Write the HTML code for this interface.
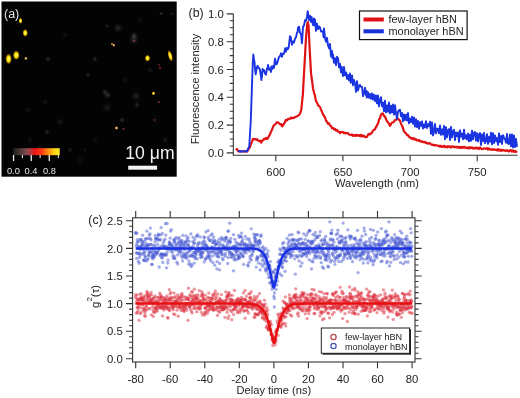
<!DOCTYPE html>
<html><head><meta charset="utf-8"><title>hBN figure</title>
<style>html,body{margin:0;padding:0;background:#fff;} svg{display:block;}</style>
</head><body>
<svg width="520" height="398" viewBox="0 0 520 398">
<defs>
<radialGradient id="gYel"><stop offset="0" stop-color="#fffb90"/><stop offset="0.45" stop-color="#ffe800"/><stop offset="0.75" stop-color="#d09000" stop-opacity="0.6"/><stop offset="1" stop-color="#000" stop-opacity="0"/></radialGradient>
<radialGradient id="gPale"><stop offset="0" stop-color="#fff0c0"/><stop offset="0.5" stop-color="#e0a040" stop-opacity="0.8"/><stop offset="1" stop-color="#000" stop-opacity="0"/></radialGradient>
<radialGradient id="gRed"><stop offset="0" stop-color="#d07060"/><stop offset="0.5" stop-color="#802020" stop-opacity="0.7"/><stop offset="1" stop-color="#000" stop-opacity="0"/></radialGradient>
<radialGradient id="gGray"><stop offset="0" stop-color="#909090" stop-opacity="0.5"/><stop offset="1" stop-color="#000" stop-opacity="0"/></radialGradient>
<linearGradient id="gCbar" x1="0" x2="1" y1="0" y2="0"><stop offset="0" stop-color="#1c1c1c"/><stop offset="0.15" stop-color="#4a3838"/><stop offset="0.3" stop-color="#8a4a4e"/><stop offset="0.4" stop-color="#c03038"/><stop offset="0.46" stop-color="#ec1616"/><stop offset="0.6" stop-color="#ff3412"/><stop offset="0.75" stop-color="#ff8c10"/><stop offset="0.88" stop-color="#ffd014"/><stop offset="1" stop-color="#fff024"/></linearGradient>
</defs>
<rect width="520" height="398" fill="#fff"/>
<rect x="1.5" y="1.5" width="175.2" height="175.2" fill="#030303"/>
<circle cx="118" cy="28" r="6.5" fill="url(#gGray)" opacity="0.60"/>
<circle cx="107" cy="95" r="5.2" fill="url(#gGray)" opacity="0.48"/>
<circle cx="136" cy="96" r="6.5" fill="url(#gGray)" opacity="0.54"/>
<circle cx="107.3" cy="107.7" r="6.5" fill="url(#gGray)" opacity="0.42"/>
<circle cx="48" cy="59" r="3.9" fill="url(#gGray)" opacity="0.72"/>
<circle cx="107" cy="26" r="2.6" fill="url(#gGray)" opacity="0.72"/>
<circle cx="161" cy="13.6" r="2.6" fill="url(#gGray)" opacity="0.90"/>
<circle cx="172" cy="13.6" r="2.6" fill="url(#gGray)" opacity="0.60"/>
<circle cx="40" cy="148" r="3.9" fill="url(#gGray)" opacity="0.36"/>
<circle cx="134" cy="40" r="6.5" fill="url(#gGray)" opacity="0.72"/>
<circle cx="108" cy="95" r="3.9" fill="url(#gGray)" opacity="0.48"/>
<circle cx="60" cy="122" r="5.2" fill="url(#gGray)" opacity="0.36"/>
<circle cx="45" cy="102" r="3.9" fill="url(#gGray)" opacity="0.30"/>
<circle cx="150" cy="70" r="3.9" fill="url(#gGray)" opacity="0.36"/>
<circle cx="95" cy="140" r="3.9" fill="url(#gGray)" opacity="0.30"/>
<circle cx="170" cy="150" r="5.2" fill="url(#gGray)" opacity="0.30"/>
<circle cx="30" cy="140" r="3.9" fill="url(#gGray)" opacity="0.30"/>
<circle cx="80" cy="160" r="3.9" fill="url(#gGray)" opacity="0.30"/>
<circle cx="155" cy="120" r="3.9" fill="url(#gGray)" opacity="0.36"/>
<circle cx="125" cy="80" r="3.9" fill="url(#gGray)" opacity="0.36"/>
<circle cx="65" cy="35" r="3.9" fill="url(#gGray)" opacity="0.30"/>
<circle cx="140" cy="20" r="3.9" fill="url(#gGray)" opacity="0.30"/>
<circle cx="134" cy="36" r="5.2" fill="url(#gGray)" opacity="0.96"/>
<circle cx="105" cy="92" r="3.9" fill="url(#gGray)" opacity="0.84"/>
<circle cx="122" cy="120" r="3.9" fill="url(#gGray)" opacity="0.72"/>
<circle cx="137" cy="105" r="3.9" fill="url(#gGray)" opacity="0.72"/>
<circle cx="95" cy="59" r="3.9" fill="url(#gGray)" opacity="0.60"/>
<circle cx="47" cy="132" r="3.9" fill="url(#gGray)" opacity="0.60"/>
<circle cx="88" cy="75" r="3.9" fill="url(#gGray)" opacity="0.48"/>
<circle cx="70" cy="150" r="3.9" fill="url(#gGray)" opacity="0.48"/>
<circle cx="165" cy="140" r="3.9" fill="url(#gGray)" opacity="0.48"/>
<circle cx="28" cy="110" r="3.9" fill="url(#gGray)" opacity="0.36"/>
<ellipse cx="8.6" cy="58.9" rx="3.5" ry="5.8" fill="url(#gYel)"/>
<ellipse cx="16.3" cy="55.2" rx="3.7" ry="5.1" fill="url(#gYel)"/>
<ellipse cx="25.9" cy="58.4" rx="2.1" ry="2.1" fill="url(#gPale)"/>
<ellipse cx="20.5" cy="20.8" rx="2.1" ry="3.2" fill="url(#gYel)"/>
<ellipse cx="25.2" cy="32.9" rx="2.9" ry="4.2" fill="url(#gYel)"/>
<ellipse cx="147.5" cy="58.2" rx="2.9" ry="3.7" fill="url(#gYel)"/>
<ellipse cx="113.8" cy="45.2" rx="1.9" ry="1.9" fill="url(#gPale)"/>
<ellipse cx="134" cy="40.7" rx="1.6" ry="1.6" fill="url(#gRed)"/>
<ellipse cx="153.5" cy="93.4" rx="1.9" ry="1.9" fill="url(#gYel)"/>
<ellipse cx="158.8" cy="102" rx="1.6" ry="1.6" fill="url(#gRed)"/>
<ellipse cx="112" cy="44" rx="1.3" ry="1.3" fill="url(#gPale)"/>
<ellipse cx="159" cy="65" rx="1.3" ry="1.3" fill="url(#gRed)"/>
<ellipse cx="154" cy="120" rx="1.3" ry="1.3" fill="url(#gRed)"/>
<ellipse cx="85" cy="150" rx="1.1" ry="1.1" fill="url(#gRed)"/>
<ellipse cx="116.5" cy="128" rx="2.2" ry="2.2" fill="url(#gPale)"/>
<ellipse cx="123.5" cy="129" rx="1.6" ry="1.6" fill="url(#gRed)"/>
<ellipse cx="160" cy="68" rx="1.6" ry="1.6" fill="url(#gRed)"/>
<ellipse cx="170.6" cy="56.5" rx="4" ry="7.5" transform="rotate(-16 170.6 56.5)" fill="url(#gRed)" opacity="0.35"/>
<ellipse cx="170.2" cy="55.8" rx="2.3" ry="6.4" transform="rotate(-16 170.2 55.8)" fill="url(#gYel)"/>
<text x="4" y="17.6" font-size="12.5" fill="#e6e6e6" style="font-family:'Liberation Sans',Arial,sans-serif">(a)</text>
<rect x="13" y="148.2" width="46.7" height="7" fill="url(#gCbar)"/>
<rect x="12.9" y="155" width="1.3" height="6" fill="#f0f0f0"/>
<rect x="21.9" y="155" width="1.1" height="3" fill="#e0e0e0"/>
<rect x="30.6" y="155" width="1.3" height="6" fill="#f0f0f0"/>
<rect x="39.6" y="155" width="1.1" height="3" fill="#e0e0e0"/>
<rect x="48.6" y="155" width="1.3" height="6" fill="#f0f0f0"/>
<rect x="57.8" y="155" width="1.1" height="3" fill="#e0e0e0"/>
<text x="13.4" y="173.6" font-size="9.3" fill="#e4e4e4" text-anchor="middle" style="font-family:'Liberation Sans',Arial,sans-serif">0.0</text>
<text x="31" y="173.6" font-size="9.3" fill="#e4e4e4" text-anchor="middle" style="font-family:'Liberation Sans',Arial,sans-serif">0.4</text>
<text x="49.4" y="173.6" font-size="9.3" fill="#e4e4e4" text-anchor="middle" style="font-family:'Liberation Sans',Arial,sans-serif">0.8</text>
<text x="125.3" y="158.9" font-size="17.6" fill="#f2f2f2" style="font-family:'Liberation Sans',Arial,sans-serif">10 μm</text>
<rect x="128.2" y="165.7" width="28.9" height="4" fill="#f4f4f4"/>
<path d="M236,150.3 L237,149 L238.2,151.3 L239,151.3 L240,151.2 L241,151.3 L242,151.3 L243,151.4 L244,151.1 L245,151.4 L246,151.7 L247.3,151.2 L248,150.4 L249,148.3 L249.8,147.7 L251,143.8 L252,141.7 L253,138.9 L254,139.5 L255,139.1 L256.3,139.7 L257,139.1 L258,140.7 L259,140.8 L260,140.7 L261.2,142.7 L262,140.8 L263,140.2 L264,138.8 L264.5,139.3 L265,138.9 L266,137.8 L267,139.1 L267.7,138.4 L269,135.9 L270,134.4 L271,131.7 L272,129.8 L273,127 L273.4,126.1 L274,125.3 L275,124.5 L276,123.5 L277,122.1 L277.5,122.5 L278,122.6 L279,123 L280,124.3 L281,124 L282,126.4 L282.4,126 L283,125.4 L284,123.6 L285,122.1 L285.7,120 L287,120.5 L288,118.9 L289,119.1 L290,118.7 L291,117.5 L292,118.3 L293,117.8 L293.8,118.1 L295,117.1 L296,116.7 L297,116.2 L298,115.6 L299,115 L299.5,114.4 L300,113.5 L301.2,110.3 L302,102.6 L302.8,95.1 L304,73.8 L304.5,65 L305,55.8 L306,38.1 L307.2,24 L307.8,22.1 L308.6,26 L309,34.8 L309.6,47.9 L310,55.2 L311,72.8 L312,80.5 L313,88.2 L314,92.6 L315,95.6 L315.8,100.5 L317,102.7 L318,105.1 L319,106.1 L320,106.8 L321,109.6 L322,111.8 L323,114.3 L324,115.8 L325,117.3 L326,120.7 L326.7,121.3 L328,123.8 L329,123.3 L330,125.4 L331,125.9 L332,128.2 L333,128 L333.5,128.3 L334,129.5 L335,128.9 L336,130.5 L337,129.9 L338,131.7 L339,131.6 L340,133.2 L341,131.9 L342,132.1 L343,132 L344,133.2 L345,132.7 L346,133.5 L347,133.1 L348,133.2 L349,134.5 L350,134.8 L351,135.2 L352,134.4 L353,135.8 L353.6,135.4 L354,135.8 L355,134.8 L356,135.9 L357,134.9 L358,135.7 L359,135.2 L360,136.2 L360.4,134.9 L361,136.4 L362,135.2 L363,136.5 L364,135.7 L365,136.9 L365.8,137.2 L367,136.7 L368,134.7 L369,133.9 L370,134.4 L371,133.4 L372,132.6 L373,130.5 L374,129.7 L375,129.4 L376,126.8 L376.5,126.7 L377,125.2 L378,123.7 L379,119.7 L380,118.1 L381,114.9 L382,113.5 L383,113.7 L384,115.9 L385,116.7 L386,119 L387,121.2 L388,122.4 L389,123.7 L390,125.9 L391,124 L392,122.5 L393,122.4 L394,121.6 L395,120 L396,120 L397,118.3 L398,118.5 L399,120 L400,120.7 L401,123.7 L402,125.5 L403,128.1 L404,131.3 L404.5,131.8 L405,132.7 L406,133.2 L407,135.1 L408,135 L409,136.9 L410,137.2 L411,138.5 L412,138 L413,139.3 L414,138.2 L415,139.7 L416,139.2 L417,140.5 L418,140.7 L419,140 L420,141.4 L421,141.1 L422,141.8 L423,141.6 L424,142.4 L425,141.8 L426,143.1 L427,142.8 L428,143.6 L429,143.4 L430,143.2 L431,144.5 L432,144.8 L433,144.6 L434,145.4 L435,144.9 L436,145.5 L437,145.4 L438,146 L439,145.7 L440,146.8 L441,145.7 L442,147 L443,146.8 L444,145.7 L445,147.2 L446,146.5 L447,147.4 L448,146.1 L449,147 L450,146.3 L451,147.5 L452,146.4 L453,146.4 L454,147.3 L455,146.8 L456,147.3 L457,146.7 L458,147.7 L459,146.8 L460,148 L461,146.9 L462,148 L463,146.8 L464,147.7 L465,146.9 L466,148.2 L467,148.1 L468,147.3 L469,148.4 L470,147.2 L471,148.1 L472,147.3 L473,148.5 L474,147.8 L475,148.6 L476,147.5 L477,148.6 L478,147.8 L479,149 L480,147.5 L481,148.3 L482,149.1 L483,149 L484,148.4 L485,148.5 L486,149 L487,148.1 L488,149.6 L489,148.3 L490,149.4 L491,149.7 L492,149.2 L493,149.8 L494,149.3 L495,149.9 L496,149.5 L497,150.4 L498,149.1 L499,150.6 L500,149.6 L501,150.9 L502,149.8 L503,150.5 L504,150.1 L505,150.7 L506,150.8 L507,150.1 L508,151 L509,151.5 L510,150.3 L511,150.1 L512,151.6 L513,150.4 L514,151.8 L515,150.9 L516,152.1 L517,151" fill="none" stroke="#e01214" stroke-width="2.2" stroke-linejoin="round"/>
<path d="M238,151 L239,151.5 L240,150.9 L241,151.7 L242,151.2 L243,151.6 L244,151.6 L245,151.3 L246,150.8 L247,151.4 L248,148.9 L249.3,146.1 L250,133.8 L250.8,120.2 L252,84.8 L252.8,62.2 L253.3,54.5 L254,59.7 L254.5,61.7 L255,68.7 L255.7,74.3 L256.6,68 L257,66.9 L257.6,65.8 L258,67.7 L259,67.7 L260,70 L261,76.4 L261.4,80 L262,75.8 L262.6,69 L263,71 L264,70.1 L265,73.4 L266,74.7 L267,68.5 L267.6,67.8 L268,64.9 L269,69.7 L270,68.4 L271,72 L271.4,66.5 L272,69.2 L273,66 L274,68 L275,58.6 L276,64.4 L277,63.7 L277.7,61.1 L279,57 L280.2,55.8 L281,53.3 L282,56.8 L282.7,53.6 L284,53.8 L285.2,48.3 L286,51.5 L287,48 L288,49 L288.8,46.6 L290,36.1 L290.7,37.1 L292,44.9 L293,41.4 L294,42.5 L295,38.8 L296,37.3 L297,32.6 L297.6,32.2 L298,27.6 L299,26.7 L300,32.9 L301,33.9 L302,43.2 L303,26.6 L304,25.5 L305,20.2 L306,20.8 L307,16.7 L307.7,11.1 L309,20.2 L310,15.7 L311,22 L311.5,17 L312,19.3 L313,25.2 L314,18.4 L314.5,25.4 L315,19.7 L316,30.9 L317,23.6 L318,29.1 L319,26.5 L320,27.4 L321,31.5 L322,31 L323,32.2 L323.6,37.1 L324,28.4 L325,37.9 L326,41.7 L327,37.8 L328,45.4 L329.2,48.4 L330,44 L331,56.5 L332,51 L332.6,58.1 L333,54.5 L334,62.7 L335,58.1 L336,65.2 L337,56.7 L338,58.2 L339,67.4 L340,63.8 L341,72.3 L341.7,66.8 L343,76.1 L344,67 L345,75.3 L346.2,72.4 L347,78.9 L348,75 L349,80.4 L350,73.5 L350.7,82.7 L352,75.4 L353,85.3 L354,79.9 L355.2,84.5 L356,91.9 L357,81.2 L358,90.4 L359,86.5 L359.8,84.9 L361,86.7 L362,86.9 L363,96.1 L364,93 L365,87.7 L366,95.6 L366.6,90.9 L367,97.6 L368,92.2 L369,97.9 L370,94 L371,98.8 L372,93.5 L373,99.6 L374,94.8 L375,101 L376,95.5 L377,103.4 L378,95.5 L379,106.3 L380,99.8 L381,97.2 L382,106.2 L383,102.7 L384,111.3 L385,100.6 L386,112.4 L387,105.4 L388,111.8 L389,102.5 L390,113.3 L391,105.8 L392,112.5 L393,104.5 L394,114.6 L395,105.3 L396,113.6 L397,118.8 L398,111.7 L399,110.4 L400,109.7 L401,116.4 L402,113 L403,121.4 L404,114.4 L405,120.1 L406,114.6 L407,120.5 L408,113 L409,123.4 L410,118.8 L411,122 L412,116.8 L413,123.8 L414,117.5 L415,126.5 L416,119.1 L417,127.1 L418,121 L419,128.8 L420,122.1 L421,125.9 L422,121.5 L423,128.6 L424,124.4 L425,127.4 L426,121.2 L427,128.1 L428,124.2 L429,125.9 L430,121.6 L431,133.8 L432,122.5 L433,135.4 L434,131.5 L435,124 L436,133.3 L437,129 L438,128.7 L439,133.3 L440,125.5 L441,134.8 L442,129.4 L443,134.6 L444,126 L445,139.2 L446,127.3 L447,137.4 L448,130.1 L449,129.1 L450,140 L451,126.9 L452,137.4 L453,131.5 L454,129.8 L455,140.1 L456,132.5 L457,136.1 L458,132.4 L459,142 L460,130.3 L461,136.5 L462,133.7 L463,139.4 L464,129.6 L465,138.5 L466,135.1 L467,139.6 L468,133.4 L469,141.3 L470,134.6 L471,140.9 L472,130.6 L473,139.3 L474,132.7 L475,132 L476,140.5 L477,133.1 L478,141.3 L479,134.6 L480,133.1 L481,145 L482,134.4 L483,141.1 L484,133 L485,143.1 L486,140.7 L487,134.2 L488,143.8 L489,136.9 L490,141.8 L491,132.7 L492,144.4 L493,133.1 L494,143 L495,135.5 L496,141 L497,138.1 L498,144.9 L499,133.4 L500,142.1 L501,136 L502,144 L503,135.1 L504,137.7 L505,139.1 L506,142.8 L507,133.9 L508,143.7 L509,143.8 L510,134.5 L511,146.3 L512,134.4 L513,147.5 L514,135.4 L515,147.1 L516,139 L517,146.8" fill="none" stroke="#1a34e2" stroke-width="1.9" stroke-linejoin="round"/>
<path d="M233.3,13.8 V155.2 H517.6" fill="none" stroke="#333" stroke-width="1.1"/>
<path d="M226.7,152.9 H233.3 M229.8,146.0 H233.3 M229.8,139.0 H233.3 M229.8,132.1 H233.3 M226.7,125.1 H233.3 M229.8,118.2 H233.3 M229.8,111.2 H233.3 M229.8,104.2 H233.3 M226.7,97.3 H233.3 M229.8,90.3 H233.3 M229.8,83.4 H233.3 M229.8,76.5 H233.3 M226.7,69.5 H233.3 M229.8,62.5 H233.3 M229.8,55.6 H233.3 M229.8,48.7 H233.3 M226.7,41.7 H233.3 M229.8,34.8 H233.3 M229.8,27.8 H233.3 M229.8,20.8 H233.3 M226.7,13.9 H233.3 M275.8,155.2 V161.2 M342.9,155.2 V161.2 M410.1,155.2 V161.2 M477.2,155.2 V161.2" stroke="#333" stroke-width="1.1" fill="none"/>
<text x="223.8" y="157.0" font-size="11.3" fill="#222" text-anchor="end" style="font-family:'Liberation Sans',Arial,sans-serif">0.0</text>
<text x="223.8" y="129.2" font-size="11.3" fill="#222" text-anchor="end" style="font-family:'Liberation Sans',Arial,sans-serif">0.2</text>
<text x="223.8" y="101.4" font-size="11.3" fill="#222" text-anchor="end" style="font-family:'Liberation Sans',Arial,sans-serif">0.4</text>
<text x="223.8" y="73.5" font-size="11.3" fill="#222" text-anchor="end" style="font-family:'Liberation Sans',Arial,sans-serif">0.6</text>
<text x="223.8" y="45.8" font-size="11.3" fill="#222" text-anchor="end" style="font-family:'Liberation Sans',Arial,sans-serif">0.8</text>
<text x="223.8" y="18.0" font-size="11.3" fill="#222" text-anchor="end" style="font-family:'Liberation Sans',Arial,sans-serif">1.0</text>
<text x="275.8" y="176.2" font-size="11.3" fill="#222" text-anchor="middle" style="font-family:'Liberation Sans',Arial,sans-serif">600</text>
<text x="342.9" y="176.2" font-size="11.3" fill="#222" text-anchor="middle" style="font-family:'Liberation Sans',Arial,sans-serif">650</text>
<text x="410.1" y="176.2" font-size="11.3" fill="#222" text-anchor="middle" style="font-family:'Liberation Sans',Arial,sans-serif">700</text>
<text x="477.2" y="176.2" font-size="11.3" fill="#222" text-anchor="middle" style="font-family:'Liberation Sans',Arial,sans-serif">750</text>
<text x="377" y="186.6" font-size="11.1" fill="#222" text-anchor="middle" style="font-family:'Liberation Sans',Arial,sans-serif">Wavelength (nm)</text>
<text transform="translate(199.2,89) rotate(-90)" font-size="11.1" fill="#222" text-anchor="middle" style="font-family:'Liberation Sans',Arial,sans-serif">Fluorescence intensity</text>
<text x="188.6" y="16.6" font-size="12.3" fill="#222" style="font-family:'Liberation Sans',Arial,sans-serif">(b)</text>
<rect x="359.5" y="11" width="107.6" height="28.6" fill="#fff" stroke="#111" stroke-width="1.2"/>
<rect x="363.5" y="17.5" width="20.3" height="4" fill="#e01018"/>
<rect x="363.5" y="29.3" width="20.3" height="4" fill="#1a30d8"/>
<text x="388.5" y="22.6" font-size="10.9" fill="#222" style="font-family:'Liberation Sans',Arial,sans-serif">few-layer hBN</text>
<text x="388.5" y="34.6" font-size="10.9" fill="#222" style="font-family:'Liberation Sans',Arial,sans-serif">monolayer hBN</text>
<g fill="rgb(72,90,210)" fill-opacity="0.5"><circle cx="135.6" cy="232.3" r="1.65"/><circle cx="135.9" cy="233.5" r="1.65"/><circle cx="136.2" cy="246.0" r="1.65"/><circle cx="136.2" cy="252.8" r="1.65"/><circle cx="136.7" cy="258.4" r="1.65"/><circle cx="136.9" cy="233.2" r="1.65"/><circle cx="136.8" cy="244.0" r="1.65"/><circle cx="137.2" cy="239.7" r="1.65"/><circle cx="137.2" cy="253.0" r="1.65"/><circle cx="137.5" cy="248.1" r="1.65"/><circle cx="137.7" cy="242.1" r="1.65"/><circle cx="138.2" cy="253.3" r="1.65"/><circle cx="138.1" cy="241.6" r="1.65"/><circle cx="138.4" cy="261.5" r="1.65"/><circle cx="138.8" cy="254.0" r="1.65"/><circle cx="138.7" cy="246.3" r="1.65"/><circle cx="138.9" cy="246.7" r="1.65"/><circle cx="139.2" cy="263.2" r="1.65"/><circle cx="139.4" cy="257.4" r="1.65"/><circle cx="139.8" cy="249.6" r="1.65"/><circle cx="139.8" cy="239.3" r="1.65"/><circle cx="140.2" cy="253.1" r="1.65"/><circle cx="140.5" cy="255.1" r="1.65"/><circle cx="140.5" cy="247.0" r="1.65"/><circle cx="140.8" cy="240.5" r="1.65"/><circle cx="141.0" cy="247.5" r="1.65"/><circle cx="141.2" cy="248.2" r="1.65"/><circle cx="141.5" cy="239.5" r="1.65"/><circle cx="141.8" cy="244.1" r="1.65"/><circle cx="142.0" cy="241.9" r="1.65"/><circle cx="142.2" cy="245.9" r="1.65"/><circle cx="142.2" cy="245.7" r="1.65"/><circle cx="142.4" cy="253.3" r="1.65"/><circle cx="142.6" cy="235.2" r="1.65"/><circle cx="143.1" cy="241.9" r="1.65"/><circle cx="143.0" cy="249.3" r="1.65"/><circle cx="143.3" cy="244.0" r="1.65"/><circle cx="143.7" cy="260.2" r="1.65"/><circle cx="143.6" cy="254.6" r="1.65"/><circle cx="144.2" cy="259.6" r="1.65"/><circle cx="144.2" cy="260.7" r="1.65"/><circle cx="144.5" cy="251.4" r="1.65"/><circle cx="144.7" cy="240.9" r="1.65"/><circle cx="144.7" cy="252.9" r="1.65"/><circle cx="145.1" cy="245.8" r="1.65"/><circle cx="145.3" cy="256.5" r="1.65"/><circle cx="145.4" cy="257.0" r="1.65"/><circle cx="145.7" cy="247.0" r="1.65"/><circle cx="145.8" cy="238.3" r="1.65"/><circle cx="146.0" cy="239.1" r="1.65"/><circle cx="146.3" cy="261.1" r="1.65"/><circle cx="146.5" cy="243.6" r="1.65"/><circle cx="146.7" cy="245.3" r="1.65"/><circle cx="146.9" cy="231.2" r="1.65"/><circle cx="147.0" cy="249.7" r="1.65"/><circle cx="147.3" cy="259.7" r="1.65"/><circle cx="147.8" cy="246.2" r="1.65"/><circle cx="147.8" cy="245.5" r="1.65"/><circle cx="148.2" cy="238.5" r="1.65"/><circle cx="148.1" cy="258.8" r="1.65"/><circle cx="148.6" cy="255.5" r="1.65"/><circle cx="148.7" cy="255.2" r="1.65"/><circle cx="149.0" cy="244.5" r="1.65"/><circle cx="149.1" cy="252.9" r="1.65"/><circle cx="149.2" cy="235.2" r="1.65"/><circle cx="149.5" cy="251.4" r="1.65"/><circle cx="149.9" cy="252.6" r="1.65"/><circle cx="150.1" cy="233.9" r="1.65"/><circle cx="150.2" cy="238.5" r="1.65"/><circle cx="150.4" cy="228.1" r="1.65"/><circle cx="150.5" cy="244.7" r="1.65"/><circle cx="151.0" cy="251.1" r="1.65"/><circle cx="151.1" cy="239.8" r="1.65"/><circle cx="151.3" cy="257.0" r="1.65"/><circle cx="151.5" cy="244.3" r="1.65"/><circle cx="151.7" cy="264.3" r="1.65"/><circle cx="151.9" cy="247.9" r="1.65"/><circle cx="152.1" cy="252.9" r="1.65"/><circle cx="152.1" cy="264.4" r="1.65"/><circle cx="152.6" cy="258.8" r="1.65"/><circle cx="152.9" cy="254.5" r="1.65"/><circle cx="152.7" cy="256.1" r="1.65"/><circle cx="153.1" cy="256.3" r="1.65"/><circle cx="153.5" cy="257.9" r="1.65"/><circle cx="153.5" cy="250.7" r="1.65"/><circle cx="153.8" cy="254.7" r="1.65"/><circle cx="154.0" cy="246.2" r="1.65"/><circle cx="154.3" cy="245.2" r="1.65"/><circle cx="154.4" cy="255.0" r="1.65"/><circle cx="154.6" cy="256.7" r="1.65"/><circle cx="154.9" cy="251.7" r="1.65"/><circle cx="155.2" cy="235.6" r="1.65"/><circle cx="155.1" cy="241.7" r="1.65"/><circle cx="155.6" cy="238.4" r="1.65"/><circle cx="155.7" cy="238.8" r="1.65"/><circle cx="156.0" cy="252.1" r="1.65"/><circle cx="156.2" cy="253.0" r="1.65"/><circle cx="156.4" cy="247.4" r="1.65"/><circle cx="156.7" cy="252.8" r="1.65"/><circle cx="156.7" cy="254.3" r="1.65"/><circle cx="157.0" cy="252.1" r="1.65"/><circle cx="157.0" cy="238.3" r="1.65"/><circle cx="157.6" cy="244.4" r="1.65"/><circle cx="157.7" cy="240.2" r="1.65"/><circle cx="157.8" cy="239.1" r="1.65"/><circle cx="157.9" cy="251.9" r="1.65"/><circle cx="158.1" cy="235.8" r="1.65"/><circle cx="158.3" cy="234.2" r="1.65"/><circle cx="158.8" cy="249.6" r="1.65"/><circle cx="159.0" cy="234.8" r="1.65"/><circle cx="159.2" cy="248.8" r="1.65"/><circle cx="159.2" cy="267.0" r="1.65"/><circle cx="159.3" cy="248.7" r="1.65"/><circle cx="159.7" cy="247.0" r="1.65"/><circle cx="160.0" cy="240.1" r="1.65"/><circle cx="160.1" cy="255.7" r="1.65"/><circle cx="160.3" cy="239.3" r="1.65"/><circle cx="160.5" cy="254.3" r="1.65"/><circle cx="160.8" cy="234.8" r="1.65"/><circle cx="161.1" cy="227.6" r="1.65"/><circle cx="161.4" cy="254.0" r="1.65"/><circle cx="161.4" cy="254.1" r="1.65"/><circle cx="161.7" cy="257.4" r="1.65"/><circle cx="161.7" cy="246.0" r="1.65"/><circle cx="162.2" cy="258.1" r="1.65"/><circle cx="162.4" cy="233.3" r="1.65"/><circle cx="162.7" cy="254.4" r="1.65"/><circle cx="162.7" cy="255.7" r="1.65"/><circle cx="162.8" cy="262.4" r="1.65"/><circle cx="163.2" cy="242.9" r="1.65"/><circle cx="163.3" cy="253.9" r="1.65"/><circle cx="163.4" cy="246.0" r="1.65"/><circle cx="163.8" cy="247.6" r="1.65"/><circle cx="164.0" cy="240.9" r="1.65"/><circle cx="164.1" cy="246.4" r="1.65"/><circle cx="164.4" cy="255.3" r="1.65"/><circle cx="164.8" cy="246.9" r="1.65"/><circle cx="165.0" cy="239.2" r="1.65"/><circle cx="165.1" cy="254.6" r="1.65"/><circle cx="165.4" cy="223.7" r="1.65"/><circle cx="165.6" cy="254.3" r="1.65"/><circle cx="165.8" cy="235.1" r="1.65"/><circle cx="165.8" cy="248.5" r="1.65"/><circle cx="166.2" cy="246.1" r="1.65"/><circle cx="166.5" cy="267.8" r="1.65"/><circle cx="166.4" cy="255.2" r="1.65"/><circle cx="166.8" cy="248.9" r="1.65"/><circle cx="167.0" cy="252.4" r="1.65"/><circle cx="167.1" cy="223.4" r="1.65"/><circle cx="167.6" cy="248.7" r="1.65"/><circle cx="167.7" cy="247.1" r="1.65"/><circle cx="167.7" cy="263.0" r="1.65"/><circle cx="168.1" cy="247.8" r="1.65"/><circle cx="168.1" cy="260.1" r="1.65"/><circle cx="168.5" cy="248.6" r="1.65"/><circle cx="168.8" cy="248.1" r="1.65"/><circle cx="168.7" cy="249.5" r="1.65"/><circle cx="169.3" cy="244.8" r="1.65"/><circle cx="169.2" cy="242.6" r="1.65"/><circle cx="169.5" cy="242.0" r="1.65"/><circle cx="169.8" cy="244.2" r="1.65"/><circle cx="170.0" cy="247.9" r="1.65"/><circle cx="170.1" cy="238.1" r="1.65"/><circle cx="170.5" cy="244.7" r="1.65"/><circle cx="170.5" cy="243.6" r="1.65"/><circle cx="170.6" cy="231.1" r="1.65"/><circle cx="171.0" cy="251.2" r="1.65"/><circle cx="171.2" cy="248.7" r="1.65"/><circle cx="171.3" cy="229.6" r="1.65"/><circle cx="171.8" cy="246.1" r="1.65"/><circle cx="172.0" cy="246.9" r="1.65"/><circle cx="172.2" cy="248.1" r="1.65"/><circle cx="172.5" cy="244.9" r="1.65"/><circle cx="172.4" cy="252.5" r="1.65"/><circle cx="172.6" cy="249.7" r="1.65"/><circle cx="172.8" cy="255.9" r="1.65"/><circle cx="173.3" cy="258.3" r="1.65"/><circle cx="173.5" cy="247.5" r="1.65"/><circle cx="173.7" cy="248.9" r="1.65"/><circle cx="173.8" cy="239.4" r="1.65"/><circle cx="174.1" cy="240.4" r="1.65"/><circle cx="174.2" cy="242.3" r="1.65"/><circle cx="174.2" cy="256.1" r="1.65"/><circle cx="174.5" cy="257.8" r="1.65"/><circle cx="174.8" cy="241.7" r="1.65"/><circle cx="174.9" cy="258.6" r="1.65"/><circle cx="175.3" cy="239.1" r="1.65"/><circle cx="175.7" cy="250.0" r="1.65"/><circle cx="175.6" cy="246.8" r="1.65"/><circle cx="176.0" cy="244.7" r="1.65"/><circle cx="176.2" cy="237.3" r="1.65"/><circle cx="176.5" cy="249.5" r="1.65"/><circle cx="176.6" cy="244.3" r="1.65"/><circle cx="176.7" cy="249.2" r="1.65"/><circle cx="176.8" cy="262.2" r="1.65"/><circle cx="177.3" cy="248.5" r="1.65"/><circle cx="177.5" cy="255.0" r="1.65"/><circle cx="177.7" cy="264.0" r="1.65"/><circle cx="177.8" cy="247.9" r="1.65"/><circle cx="178.2" cy="242.3" r="1.65"/><circle cx="178.4" cy="239.0" r="1.65"/><circle cx="178.5" cy="248.4" r="1.65"/><circle cx="178.7" cy="251.5" r="1.65"/><circle cx="179.1" cy="243.9" r="1.65"/><circle cx="179.2" cy="237.6" r="1.65"/><circle cx="179.4" cy="246.8" r="1.65"/><circle cx="179.5" cy="251.3" r="1.65"/><circle cx="179.8" cy="253.0" r="1.65"/><circle cx="179.9" cy="241.9" r="1.65"/><circle cx="180.4" cy="240.3" r="1.65"/><circle cx="180.4" cy="249.5" r="1.65"/><circle cx="180.5" cy="245.3" r="1.65"/><circle cx="180.6" cy="249.9" r="1.65"/><circle cx="181.1" cy="242.3" r="1.65"/><circle cx="181.2" cy="244.5" r="1.65"/><circle cx="181.4" cy="255.5" r="1.65"/><circle cx="181.6" cy="246.6" r="1.65"/><circle cx="182.0" cy="240.7" r="1.65"/><circle cx="182.0" cy="257.4" r="1.65"/><circle cx="182.2" cy="252.4" r="1.65"/><circle cx="182.3" cy="242.2" r="1.65"/><circle cx="182.6" cy="261.0" r="1.65"/><circle cx="182.8" cy="235.3" r="1.65"/><circle cx="183.2" cy="255.9" r="1.65"/><circle cx="183.5" cy="244.1" r="1.65"/><circle cx="183.7" cy="247.8" r="1.65"/><circle cx="183.9" cy="244.7" r="1.65"/><circle cx="184.0" cy="247.3" r="1.65"/><circle cx="184.3" cy="256.1" r="1.65"/><circle cx="184.4" cy="254.7" r="1.65"/><circle cx="184.6" cy="249.6" r="1.65"/><circle cx="185.0" cy="253.9" r="1.65"/><circle cx="184.9" cy="257.4" r="1.65"/><circle cx="185.3" cy="241.8" r="1.65"/><circle cx="185.6" cy="242.0" r="1.65"/><circle cx="185.7" cy="243.0" r="1.65"/><circle cx="185.9" cy="245.8" r="1.65"/><circle cx="186.1" cy="235.9" r="1.65"/><circle cx="186.4" cy="258.3" r="1.65"/><circle cx="186.5" cy="255.4" r="1.65"/><circle cx="186.6" cy="252.9" r="1.65"/><circle cx="187.0" cy="257.0" r="1.65"/><circle cx="187.2" cy="239.1" r="1.65"/><circle cx="187.4" cy="240.8" r="1.65"/><circle cx="187.8" cy="244.9" r="1.65"/><circle cx="188.0" cy="252.4" r="1.65"/><circle cx="188.2" cy="237.6" r="1.65"/><circle cx="188.3" cy="244.6" r="1.65"/><circle cx="188.5" cy="246.4" r="1.65"/><circle cx="188.7" cy="264.3" r="1.65"/><circle cx="188.8" cy="260.8" r="1.65"/><circle cx="189.2" cy="241.3" r="1.65"/><circle cx="189.3" cy="251.1" r="1.65"/><circle cx="189.5" cy="249.6" r="1.65"/><circle cx="189.6" cy="256.0" r="1.65"/><circle cx="189.8" cy="248.2" r="1.65"/><circle cx="190.2" cy="263.7" r="1.65"/><circle cx="190.5" cy="247.2" r="1.65"/><circle cx="190.5" cy="250.1" r="1.65"/><circle cx="190.8" cy="233.9" r="1.65"/><circle cx="190.8" cy="256.2" r="1.65"/><circle cx="191.2" cy="266.6" r="1.65"/><circle cx="191.6" cy="248.4" r="1.65"/><circle cx="191.8" cy="255.4" r="1.65"/><circle cx="191.9" cy="265.2" r="1.65"/><circle cx="192.2" cy="248.0" r="1.65"/><circle cx="192.3" cy="254.5" r="1.65"/><circle cx="192.5" cy="248.2" r="1.65"/><circle cx="192.7" cy="241.6" r="1.65"/><circle cx="192.9" cy="256.4" r="1.65"/><circle cx="193.1" cy="237.3" r="1.65"/><circle cx="193.3" cy="246.0" r="1.65"/><circle cx="193.4" cy="252.3" r="1.65"/><circle cx="193.9" cy="242.9" r="1.65"/><circle cx="194.1" cy="263.2" r="1.65"/><circle cx="194.2" cy="256.4" r="1.65"/><circle cx="194.4" cy="243.1" r="1.65"/><circle cx="194.7" cy="252.6" r="1.65"/><circle cx="194.8" cy="239.5" r="1.65"/><circle cx="195.2" cy="252.9" r="1.65"/><circle cx="195.2" cy="258.7" r="1.65"/><circle cx="195.5" cy="257.5" r="1.65"/><circle cx="195.6" cy="251.1" r="1.65"/><circle cx="195.8" cy="253.7" r="1.65"/><circle cx="196.0" cy="254.7" r="1.65"/><circle cx="196.2" cy="250.6" r="1.65"/><circle cx="196.7" cy="250.1" r="1.65"/><circle cx="196.6" cy="236.2" r="1.65"/><circle cx="197.0" cy="236.1" r="1.65"/><circle cx="197.3" cy="258.8" r="1.65"/><circle cx="197.5" cy="244.0" r="1.65"/><circle cx="197.7" cy="234.7" r="1.65"/><circle cx="197.7" cy="246.1" r="1.65"/><circle cx="197.9" cy="251.1" r="1.65"/><circle cx="198.4" cy="251.8" r="1.65"/><circle cx="198.4" cy="249.7" r="1.65"/><circle cx="198.8" cy="248.6" r="1.65"/><circle cx="199.0" cy="249.0" r="1.65"/><circle cx="199.0" cy="242.5" r="1.65"/><circle cx="199.4" cy="243.8" r="1.65"/><circle cx="199.6" cy="251.2" r="1.65"/><circle cx="199.9" cy="249.1" r="1.65"/><circle cx="200.1" cy="236.9" r="1.65"/><circle cx="200.0" cy="254.7" r="1.65"/><circle cx="200.6" cy="257.3" r="1.65"/><circle cx="200.7" cy="248.2" r="1.65"/><circle cx="201.0" cy="249.1" r="1.65"/><circle cx="200.8" cy="254.4" r="1.65"/><circle cx="201.2" cy="253.1" r="1.65"/><circle cx="201.3" cy="251.7" r="1.65"/><circle cx="201.8" cy="257.3" r="1.65"/><circle cx="201.7" cy="253.7" r="1.65"/><circle cx="202.1" cy="256.0" r="1.65"/><circle cx="202.3" cy="242.4" r="1.65"/><circle cx="202.4" cy="246.8" r="1.65"/><circle cx="202.5" cy="252.0" r="1.65"/><circle cx="202.9" cy="244.2" r="1.65"/><circle cx="203.1" cy="252.6" r="1.65"/><circle cx="203.6" cy="247.3" r="1.65"/><circle cx="203.8" cy="237.0" r="1.65"/><circle cx="203.8" cy="241.0" r="1.65"/><circle cx="204.2" cy="249.4" r="1.65"/><circle cx="204.3" cy="261.9" r="1.65"/><circle cx="204.2" cy="248.3" r="1.65"/><circle cx="204.5" cy="244.7" r="1.65"/><circle cx="204.7" cy="237.7" r="1.65"/><circle cx="205.0" cy="241.8" r="1.65"/><circle cx="205.2" cy="245.1" r="1.65"/><circle cx="205.4" cy="259.0" r="1.65"/><circle cx="205.8" cy="259.0" r="1.65"/><circle cx="205.9" cy="231.9" r="1.65"/><circle cx="206.2" cy="244.6" r="1.65"/><circle cx="206.3" cy="250.3" r="1.65"/><circle cx="206.5" cy="246.4" r="1.65"/><circle cx="206.9" cy="248.5" r="1.65"/><circle cx="206.9" cy="246.4" r="1.65"/><circle cx="207.1" cy="257.0" r="1.65"/><circle cx="207.6" cy="256.2" r="1.65"/><circle cx="207.6" cy="250.9" r="1.65"/><circle cx="207.8" cy="247.2" r="1.65"/><circle cx="208.2" cy="230.6" r="1.65"/><circle cx="208.4" cy="237.2" r="1.65"/><circle cx="208.4" cy="253.5" r="1.65"/><circle cx="208.7" cy="239.3" r="1.65"/><circle cx="208.7" cy="257.9" r="1.65"/><circle cx="208.9" cy="252.3" r="1.65"/><circle cx="209.3" cy="256.0" r="1.65"/><circle cx="209.4" cy="256.0" r="1.65"/><circle cx="209.6" cy="240.4" r="1.65"/><circle cx="210.0" cy="248.5" r="1.65"/><circle cx="210.1" cy="258.9" r="1.65"/><circle cx="210.4" cy="240.9" r="1.65"/><circle cx="210.6" cy="251.1" r="1.65"/><circle cx="210.9" cy="260.9" r="1.65"/><circle cx="210.9" cy="235.2" r="1.65"/><circle cx="211.4" cy="252.4" r="1.65"/><circle cx="211.6" cy="247.7" r="1.65"/><circle cx="211.5" cy="247.7" r="1.65"/><circle cx="212.0" cy="246.8" r="1.65"/><circle cx="212.2" cy="239.6" r="1.65"/><circle cx="212.2" cy="233.9" r="1.65"/><circle cx="212.6" cy="256.0" r="1.65"/><circle cx="212.8" cy="242.7" r="1.65"/><circle cx="213.0" cy="248.8" r="1.65"/><circle cx="213.0" cy="262.6" r="1.65"/><circle cx="213.2" cy="251.3" r="1.65"/><circle cx="213.4" cy="242.7" r="1.65"/><circle cx="213.7" cy="237.0" r="1.65"/><circle cx="214.0" cy="251.5" r="1.65"/><circle cx="214.3" cy="241.1" r="1.65"/><circle cx="214.4" cy="247.1" r="1.65"/><circle cx="214.8" cy="265.2" r="1.65"/><circle cx="214.9" cy="242.1" r="1.65"/><circle cx="215.2" cy="253.2" r="1.65"/><circle cx="215.1" cy="240.5" r="1.65"/><circle cx="215.5" cy="244.7" r="1.65"/><circle cx="215.7" cy="244.6" r="1.65"/><circle cx="215.7" cy="254.3" r="1.65"/><circle cx="216.1" cy="249.2" r="1.65"/><circle cx="216.4" cy="243.9" r="1.65"/><circle cx="216.5" cy="249.8" r="1.65"/><circle cx="217.0" cy="268.8" r="1.65"/><circle cx="217.1" cy="261.6" r="1.65"/><circle cx="217.1" cy="256.3" r="1.65"/><circle cx="217.6" cy="243.7" r="1.65"/><circle cx="217.7" cy="253.1" r="1.65"/><circle cx="217.9" cy="253.5" r="1.65"/><circle cx="218.0" cy="241.4" r="1.65"/><circle cx="218.2" cy="256.3" r="1.65"/><circle cx="218.3" cy="251.0" r="1.65"/><circle cx="218.7" cy="257.0" r="1.65"/><circle cx="218.8" cy="246.9" r="1.65"/><circle cx="219.3" cy="249.9" r="1.65"/><circle cx="219.2" cy="238.8" r="1.65"/><circle cx="219.5" cy="269.8" r="1.65"/><circle cx="219.6" cy="263.4" r="1.65"/><circle cx="219.9" cy="243.0" r="1.65"/><circle cx="220.3" cy="245.1" r="1.65"/><circle cx="220.4" cy="252.9" r="1.65"/><circle cx="220.7" cy="251.7" r="1.65"/><circle cx="220.9" cy="251.1" r="1.65"/><circle cx="220.9" cy="250.8" r="1.65"/><circle cx="221.4" cy="240.0" r="1.65"/><circle cx="221.5" cy="254.8" r="1.65"/><circle cx="221.5" cy="251.6" r="1.65"/><circle cx="221.8" cy="237.3" r="1.65"/><circle cx="222.1" cy="253.6" r="1.65"/><circle cx="222.5" cy="238.9" r="1.65"/><circle cx="222.4" cy="258.4" r="1.65"/><circle cx="222.8" cy="245.8" r="1.65"/><circle cx="223.0" cy="245.0" r="1.65"/><circle cx="223.2" cy="259.8" r="1.65"/><circle cx="223.4" cy="248.8" r="1.65"/><circle cx="223.7" cy="247.2" r="1.65"/><circle cx="223.8" cy="254.8" r="1.65"/><circle cx="224.0" cy="247.6" r="1.65"/><circle cx="224.4" cy="247.2" r="1.65"/><circle cx="224.2" cy="248.3" r="1.65"/><circle cx="224.7" cy="239.3" r="1.65"/><circle cx="224.7" cy="241.1" r="1.65"/><circle cx="224.9" cy="249.8" r="1.65"/><circle cx="225.5" cy="247.3" r="1.65"/><circle cx="225.6" cy="253.4" r="1.65"/><circle cx="225.5" cy="256.4" r="1.65"/><circle cx="225.9" cy="237.5" r="1.65"/><circle cx="226.1" cy="238.5" r="1.65"/><circle cx="226.2" cy="237.5" r="1.65"/><circle cx="226.4" cy="249.1" r="1.65"/><circle cx="226.7" cy="247.7" r="1.65"/><circle cx="226.8" cy="246.2" r="1.65"/><circle cx="227.3" cy="244.0" r="1.65"/><circle cx="227.4" cy="249.9" r="1.65"/><circle cx="227.7" cy="241.8" r="1.65"/><circle cx="227.7" cy="263.5" r="1.65"/><circle cx="228.2" cy="257.6" r="1.65"/><circle cx="228.2" cy="230.8" r="1.65"/><circle cx="228.3" cy="231.3" r="1.65"/><circle cx="228.5" cy="240.5" r="1.65"/><circle cx="228.8" cy="249.9" r="1.65"/><circle cx="229.3" cy="252.0" r="1.65"/><circle cx="229.4" cy="247.0" r="1.65"/><circle cx="229.5" cy="254.4" r="1.65"/><circle cx="229.7" cy="223.2" r="1.65"/><circle cx="229.8" cy="241.4" r="1.65"/><circle cx="230.0" cy="243.0" r="1.65"/><circle cx="230.3" cy="252.4" r="1.65"/><circle cx="230.5" cy="241.7" r="1.65"/><circle cx="230.7" cy="238.4" r="1.65"/><circle cx="230.8" cy="248.7" r="1.65"/><circle cx="231.2" cy="257.2" r="1.65"/><circle cx="231.5" cy="253.0" r="1.65"/><circle cx="231.8" cy="257.0" r="1.65"/><circle cx="231.8" cy="254.2" r="1.65"/><circle cx="232.1" cy="254.6" r="1.65"/><circle cx="232.3" cy="247.6" r="1.65"/><circle cx="232.5" cy="248.7" r="1.65"/><circle cx="232.9" cy="247.1" r="1.65"/><circle cx="233.0" cy="246.2" r="1.65"/><circle cx="233.1" cy="254.7" r="1.65"/><circle cx="233.5" cy="234.7" r="1.65"/><circle cx="233.5" cy="270.8" r="1.65"/><circle cx="233.9" cy="248.7" r="1.65"/><circle cx="234.1" cy="259.7" r="1.65"/><circle cx="234.1" cy="255.5" r="1.65"/><circle cx="234.4" cy="250.1" r="1.65"/><circle cx="234.5" cy="257.7" r="1.65"/><circle cx="234.9" cy="239.3" r="1.65"/><circle cx="234.9" cy="246.0" r="1.65"/><circle cx="235.4" cy="259.9" r="1.65"/><circle cx="235.4" cy="246.7" r="1.65"/><circle cx="235.6" cy="246.6" r="1.65"/><circle cx="236.0" cy="242.2" r="1.65"/><circle cx="236.1" cy="251.8" r="1.65"/><circle cx="236.3" cy="251.5" r="1.65"/><circle cx="236.6" cy="248.1" r="1.65"/><circle cx="236.7" cy="254.4" r="1.65"/><circle cx="236.9" cy="249.6" r="1.65"/><circle cx="237.3" cy="243.5" r="1.65"/><circle cx="237.5" cy="251.2" r="1.65"/><circle cx="237.5" cy="259.1" r="1.65"/><circle cx="237.8" cy="245.4" r="1.65"/><circle cx="238.1" cy="255.8" r="1.65"/><circle cx="238.4" cy="258.4" r="1.65"/><circle cx="238.6" cy="256.6" r="1.65"/><circle cx="238.6" cy="235.5" r="1.65"/><circle cx="239.0" cy="249.9" r="1.65"/><circle cx="239.3" cy="258.0" r="1.65"/><circle cx="239.3" cy="237.4" r="1.65"/><circle cx="239.5" cy="243.8" r="1.65"/><circle cx="239.8" cy="257.3" r="1.65"/><circle cx="239.9" cy="254.9" r="1.65"/><circle cx="240.3" cy="252.9" r="1.65"/><circle cx="240.2" cy="244.1" r="1.65"/><circle cx="240.7" cy="245.5" r="1.65"/><circle cx="240.9" cy="236.6" r="1.65"/><circle cx="241.0" cy="236.5" r="1.65"/><circle cx="241.4" cy="233.1" r="1.65"/><circle cx="241.3" cy="253.5" r="1.65"/><circle cx="241.6" cy="249.4" r="1.65"/><circle cx="241.9" cy="241.7" r="1.65"/><circle cx="242.2" cy="241.7" r="1.65"/><circle cx="242.2" cy="244.4" r="1.65"/><circle cx="242.5" cy="256.2" r="1.65"/><circle cx="242.8" cy="255.2" r="1.65"/><circle cx="242.8" cy="239.2" r="1.65"/><circle cx="243.2" cy="256.7" r="1.65"/><circle cx="243.3" cy="250.6" r="1.65"/><circle cx="243.6" cy="244.8" r="1.65"/><circle cx="243.6" cy="264.4" r="1.65"/><circle cx="244.1" cy="250.1" r="1.65"/><circle cx="244.4" cy="252.7" r="1.65"/><circle cx="244.5" cy="245.4" r="1.65"/><circle cx="244.8" cy="250.0" r="1.65"/><circle cx="244.7" cy="243.5" r="1.65"/><circle cx="245.0" cy="244.1" r="1.65"/><circle cx="245.4" cy="249.3" r="1.65"/><circle cx="245.3" cy="236.4" r="1.65"/><circle cx="245.7" cy="250.0" r="1.65"/><circle cx="246.1" cy="252.9" r="1.65"/><circle cx="246.3" cy="245.8" r="1.65"/><circle cx="246.3" cy="250.1" r="1.65"/><circle cx="246.4" cy="246.7" r="1.65"/><circle cx="246.8" cy="249.6" r="1.65"/><circle cx="247.2" cy="246.4" r="1.65"/><circle cx="247.1" cy="239.0" r="1.65"/><circle cx="247.6" cy="248.4" r="1.65"/><circle cx="247.7" cy="264.9" r="1.65"/><circle cx="247.7" cy="244.6" r="1.65"/><circle cx="248.2" cy="245.1" r="1.65"/><circle cx="248.2" cy="266.1" r="1.65"/><circle cx="248.4" cy="249.9" r="1.65"/><circle cx="248.6" cy="248.2" r="1.65"/><circle cx="248.9" cy="249.4" r="1.65"/><circle cx="249.1" cy="262.3" r="1.65"/><circle cx="249.2" cy="238.8" r="1.65"/><circle cx="249.5" cy="241.1" r="1.65"/><circle cx="249.6" cy="251.0" r="1.65"/><circle cx="250.1" cy="256.3" r="1.65"/><circle cx="250.3" cy="246.3" r="1.65"/><circle cx="250.2" cy="258.7" r="1.65"/><circle cx="250.6" cy="243.2" r="1.65"/><circle cx="250.7" cy="245.8" r="1.65"/><circle cx="251.0" cy="247.5" r="1.65"/><circle cx="251.2" cy="228.8" r="1.65"/><circle cx="251.3" cy="260.0" r="1.65"/><circle cx="251.5" cy="244.9" r="1.65"/><circle cx="252.0" cy="255.4" r="1.65"/><circle cx="252.1" cy="253.9" r="1.65"/><circle cx="252.2" cy="249.3" r="1.65"/><circle cx="252.6" cy="246.2" r="1.65"/><circle cx="252.9" cy="245.6" r="1.65"/><circle cx="253.1" cy="247.6" r="1.65"/><circle cx="253.1" cy="251.6" r="1.65"/><circle cx="253.3" cy="250.7" r="1.65"/><circle cx="253.5" cy="246.8" r="1.65"/><circle cx="253.8" cy="234.1" r="1.65"/><circle cx="254.1" cy="245.4" r="1.65"/><circle cx="254.4" cy="245.1" r="1.65"/><circle cx="254.4" cy="237.8" r="1.65"/><circle cx="254.7" cy="236.7" r="1.65"/><circle cx="255.0" cy="239.6" r="1.65"/><circle cx="255.1" cy="241.5" r="1.65"/><circle cx="255.4" cy="242.3" r="1.65"/><circle cx="255.7" cy="239.0" r="1.65"/><circle cx="255.6" cy="234.7" r="1.65"/><circle cx="255.9" cy="248.4" r="1.65"/><circle cx="256.2" cy="267.1" r="1.65"/><circle cx="256.5" cy="260.3" r="1.65"/><circle cx="256.5" cy="234.7" r="1.65"/><circle cx="256.7" cy="258.2" r="1.65"/><circle cx="256.8" cy="241.7" r="1.65"/><circle cx="257.3" cy="245.3" r="1.65"/><circle cx="257.3" cy="256.6" r="1.65"/><circle cx="257.7" cy="259.0" r="1.65"/><circle cx="257.9" cy="243.9" r="1.65"/><circle cx="257.9" cy="257.5" r="1.65"/><circle cx="258.1" cy="234.8" r="1.65"/><circle cx="258.4" cy="242.2" r="1.65"/><circle cx="258.6" cy="263.2" r="1.65"/><circle cx="259.1" cy="240.5" r="1.65"/><circle cx="259.1" cy="247.6" r="1.65"/><circle cx="259.3" cy="241.1" r="1.65"/><circle cx="259.4" cy="250.2" r="1.65"/><circle cx="259.7" cy="243.9" r="1.65"/><circle cx="259.8" cy="240.9" r="1.65"/><circle cx="260.1" cy="269.9" r="1.65"/><circle cx="260.4" cy="256.0" r="1.65"/><circle cx="260.5" cy="242.8" r="1.65"/><circle cx="260.9" cy="236.4" r="1.65"/><circle cx="261.2" cy="264.0" r="1.65"/><circle cx="261.2" cy="251.3" r="1.65"/><circle cx="261.3" cy="235.0" r="1.65"/><circle cx="261.6" cy="253.9" r="1.65"/><circle cx="262.0" cy="256.0" r="1.65"/><circle cx="262.3" cy="260.2" r="1.65"/><circle cx="262.3" cy="248.1" r="1.65"/><circle cx="262.4" cy="255.6" r="1.65"/><circle cx="262.8" cy="266.2" r="1.65"/><circle cx="263.1" cy="246.7" r="1.65"/><circle cx="263.1" cy="253.6" r="1.65"/><circle cx="263.6" cy="255.9" r="1.65"/><circle cx="263.8" cy="251.1" r="1.65"/><circle cx="263.6" cy="257.8" r="1.65"/><circle cx="264.2" cy="260.7" r="1.65"/><circle cx="264.2" cy="249.7" r="1.65"/><circle cx="264.4" cy="264.2" r="1.65"/><circle cx="264.7" cy="255.1" r="1.65"/><circle cx="264.8" cy="255.8" r="1.65"/><circle cx="265.1" cy="262.7" r="1.65"/><circle cx="265.4" cy="256.4" r="1.65"/><circle cx="265.4" cy="268.6" r="1.65"/><circle cx="265.8" cy="248.5" r="1.65"/><circle cx="265.8" cy="270.3" r="1.65"/><circle cx="266.2" cy="271.2" r="1.65"/><circle cx="266.5" cy="257.9" r="1.65"/><circle cx="266.7" cy="263.9" r="1.65"/><circle cx="266.8" cy="253.9" r="1.65"/><circle cx="266.8" cy="268.9" r="1.65"/><circle cx="267.2" cy="254.0" r="1.65"/><circle cx="267.4" cy="267.0" r="1.65"/><circle cx="267.7" cy="264.9" r="1.65"/><circle cx="267.9" cy="256.6" r="1.65"/><circle cx="268.1" cy="250.8" r="1.65"/><circle cx="268.1" cy="274.0" r="1.65"/><circle cx="268.4" cy="268.5" r="1.65"/><circle cx="268.6" cy="277.5" r="1.65"/><circle cx="269.0" cy="266.5" r="1.65"/><circle cx="269.2" cy="265.5" r="1.65"/><circle cx="269.1" cy="265.1" r="1.65"/><circle cx="269.4" cy="265.7" r="1.65"/><circle cx="269.6" cy="283.0" r="1.65"/><circle cx="270.0" cy="267.2" r="1.65"/><circle cx="270.1" cy="276.8" r="1.65"/><circle cx="270.5" cy="269.5" r="1.65"/><circle cx="270.4" cy="261.7" r="1.65"/><circle cx="270.9" cy="277.3" r="1.65"/><circle cx="271.0" cy="282.2" r="1.65"/><circle cx="271.4" cy="274.8" r="1.65"/><circle cx="271.6" cy="271.8" r="1.65"/><circle cx="271.6" cy="282.6" r="1.65"/><circle cx="271.8" cy="281.9" r="1.65"/><circle cx="272.0" cy="285.5" r="1.65"/><circle cx="272.2" cy="289.2" r="1.65"/><circle cx="272.5" cy="281.0" r="1.65"/><circle cx="272.9" cy="272.5" r="1.65"/><circle cx="272.8" cy="286.4" r="1.65"/><circle cx="273.2" cy="272.0" r="1.65"/><circle cx="273.2" cy="286.7" r="1.65"/><circle cx="273.4" cy="281.2" r="1.65"/><circle cx="273.9" cy="296.2" r="1.65"/><circle cx="273.9" cy="284.9" r="1.65"/><circle cx="274.4" cy="307.0" r="1.65"/><circle cx="274.3" cy="298.5" r="1.65"/><circle cx="274.5" cy="292.8" r="1.65"/><circle cx="274.9" cy="269.9" r="1.65"/><circle cx="275.2" cy="276.4" r="1.65"/><circle cx="275.1" cy="277.8" r="1.65"/><circle cx="275.4" cy="279.8" r="1.65"/><circle cx="275.7" cy="274.9" r="1.65"/><circle cx="275.7" cy="273.2" r="1.65"/><circle cx="276.1" cy="289.3" r="1.65"/><circle cx="276.5" cy="276.5" r="1.65"/><circle cx="276.4" cy="269.4" r="1.65"/><circle cx="276.8" cy="285.1" r="1.65"/><circle cx="277.1" cy="277.5" r="1.65"/><circle cx="277.3" cy="281.2" r="1.65"/><circle cx="277.5" cy="272.4" r="1.65"/><circle cx="277.7" cy="262.1" r="1.65"/><circle cx="277.7" cy="269.7" r="1.65"/><circle cx="278.1" cy="267.1" r="1.65"/><circle cx="278.5" cy="266.3" r="1.65"/><circle cx="278.4" cy="266.3" r="1.65"/><circle cx="278.9" cy="265.7" r="1.65"/><circle cx="278.8" cy="261.9" r="1.65"/><circle cx="279.3" cy="266.1" r="1.65"/><circle cx="279.2" cy="260.1" r="1.65"/><circle cx="279.7" cy="254.1" r="1.65"/><circle cx="279.8" cy="249.0" r="1.65"/><circle cx="280.0" cy="274.0" r="1.65"/><circle cx="280.2" cy="260.4" r="1.65"/><circle cx="280.5" cy="262.8" r="1.65"/><circle cx="280.6" cy="254.5" r="1.65"/><circle cx="280.8" cy="263.9" r="1.65"/><circle cx="281.0" cy="250.4" r="1.65"/><circle cx="281.4" cy="261.5" r="1.65"/><circle cx="281.6" cy="263.6" r="1.65"/><circle cx="281.8" cy="275.7" r="1.65"/><circle cx="282.0" cy="254.6" r="1.65"/><circle cx="282.1" cy="266.3" r="1.65"/><circle cx="282.4" cy="267.7" r="1.65"/><circle cx="282.6" cy="243.7" r="1.65"/><circle cx="282.7" cy="262.8" r="1.65"/><circle cx="282.9" cy="247.7" r="1.65"/><circle cx="283.1" cy="255.6" r="1.65"/><circle cx="283.6" cy="247.9" r="1.65"/><circle cx="283.7" cy="242.4" r="1.65"/><circle cx="283.7" cy="254.3" r="1.65"/><circle cx="284.2" cy="248.3" r="1.65"/><circle cx="284.3" cy="260.4" r="1.65"/><circle cx="284.3" cy="250.8" r="1.65"/><circle cx="284.6" cy="257.7" r="1.65"/><circle cx="284.9" cy="248.3" r="1.65"/><circle cx="285.0" cy="271.3" r="1.65"/><circle cx="285.1" cy="260.3" r="1.65"/><circle cx="285.3" cy="256.4" r="1.65"/><circle cx="285.6" cy="257.3" r="1.65"/><circle cx="286.0" cy="256.7" r="1.65"/><circle cx="285.9" cy="251.6" r="1.65"/><circle cx="286.5" cy="249.9" r="1.65"/><circle cx="286.6" cy="261.3" r="1.65"/><circle cx="286.6" cy="252.1" r="1.65"/><circle cx="286.8" cy="253.9" r="1.65"/><circle cx="287.1" cy="238.5" r="1.65"/><circle cx="287.3" cy="249.0" r="1.65"/><circle cx="287.7" cy="253.8" r="1.65"/><circle cx="288.0" cy="243.6" r="1.65"/><circle cx="288.2" cy="247.5" r="1.65"/><circle cx="288.1" cy="253.3" r="1.65"/><circle cx="288.5" cy="246.1" r="1.65"/><circle cx="288.5" cy="252.7" r="1.65"/><circle cx="289.0" cy="241.8" r="1.65"/><circle cx="288.9" cy="249.3" r="1.65"/><circle cx="289.3" cy="235.2" r="1.65"/><circle cx="289.4" cy="240.3" r="1.65"/><circle cx="289.7" cy="253.5" r="1.65"/><circle cx="290.1" cy="251.2" r="1.65"/><circle cx="290.1" cy="247.4" r="1.65"/><circle cx="290.5" cy="255.2" r="1.65"/><circle cx="290.5" cy="257.4" r="1.65"/><circle cx="290.8" cy="253.0" r="1.65"/><circle cx="291.0" cy="245.7" r="1.65"/><circle cx="291.1" cy="248.1" r="1.65"/><circle cx="291.6" cy="255.0" r="1.65"/><circle cx="291.8" cy="243.8" r="1.65"/><circle cx="292.0" cy="234.5" r="1.65"/><circle cx="292.0" cy="239.5" r="1.65"/><circle cx="292.1" cy="245.2" r="1.65"/><circle cx="292.6" cy="240.7" r="1.65"/><circle cx="292.6" cy="255.8" r="1.65"/><circle cx="293.1" cy="251.5" r="1.65"/><circle cx="293.2" cy="248.3" r="1.65"/><circle cx="293.5" cy="239.6" r="1.65"/><circle cx="293.6" cy="247.8" r="1.65"/><circle cx="294.0" cy="239.6" r="1.65"/><circle cx="294.2" cy="243.8" r="1.65"/><circle cx="294.4" cy="247.1" r="1.65"/><circle cx="294.4" cy="248.2" r="1.65"/><circle cx="294.7" cy="243.7" r="1.65"/><circle cx="294.7" cy="258.8" r="1.65"/><circle cx="295.1" cy="247.6" r="1.65"/><circle cx="295.3" cy="274.2" r="1.65"/><circle cx="295.7" cy="245.8" r="1.65"/><circle cx="295.6" cy="245.4" r="1.65"/><circle cx="295.7" cy="255.4" r="1.65"/><circle cx="295.9" cy="240.4" r="1.65"/><circle cx="296.4" cy="249.0" r="1.65"/><circle cx="296.4" cy="244.5" r="1.65"/><circle cx="296.8" cy="245.9" r="1.65"/><circle cx="296.9" cy="246.4" r="1.65"/><circle cx="297.2" cy="256.3" r="1.65"/><circle cx="297.6" cy="257.1" r="1.65"/><circle cx="297.4" cy="240.6" r="1.65"/><circle cx="297.8" cy="247.2" r="1.65"/><circle cx="298.0" cy="232.1" r="1.65"/><circle cx="298.3" cy="239.7" r="1.65"/><circle cx="298.5" cy="243.9" r="1.65"/><circle cx="298.9" cy="242.9" r="1.65"/><circle cx="298.9" cy="232.8" r="1.65"/><circle cx="299.0" cy="250.7" r="1.65"/><circle cx="299.2" cy="260.8" r="1.65"/><circle cx="299.6" cy="255.1" r="1.65"/><circle cx="299.8" cy="239.1" r="1.65"/><circle cx="300.1" cy="251.6" r="1.65"/><circle cx="300.4" cy="247.5" r="1.65"/><circle cx="300.6" cy="266.2" r="1.65"/><circle cx="300.7" cy="249.2" r="1.65"/><circle cx="300.7" cy="244.3" r="1.65"/><circle cx="301.0" cy="244.1" r="1.65"/><circle cx="301.4" cy="238.8" r="1.65"/><circle cx="301.4" cy="256.4" r="1.65"/><circle cx="301.7" cy="250.0" r="1.65"/><circle cx="302.0" cy="262.9" r="1.65"/><circle cx="302.2" cy="255.8" r="1.65"/><circle cx="302.2" cy="243.7" r="1.65"/><circle cx="302.7" cy="243.5" r="1.65"/><circle cx="302.5" cy="253.1" r="1.65"/><circle cx="302.8" cy="249.4" r="1.65"/><circle cx="303.0" cy="242.5" r="1.65"/><circle cx="303.6" cy="249.6" r="1.65"/><circle cx="303.8" cy="233.8" r="1.65"/><circle cx="303.7" cy="253.6" r="1.65"/><circle cx="303.8" cy="254.8" r="1.65"/><circle cx="304.3" cy="246.5" r="1.65"/><circle cx="304.5" cy="249.6" r="1.65"/><circle cx="304.8" cy="253.7" r="1.65"/><circle cx="304.9" cy="243.9" r="1.65"/><circle cx="305.2" cy="249.6" r="1.65"/><circle cx="305.2" cy="239.3" r="1.65"/><circle cx="305.4" cy="243.5" r="1.65"/><circle cx="305.6" cy="253.9" r="1.65"/><circle cx="306.0" cy="251.8" r="1.65"/><circle cx="306.1" cy="248.9" r="1.65"/><circle cx="306.2" cy="235.4" r="1.65"/><circle cx="306.6" cy="256.5" r="1.65"/><circle cx="306.8" cy="246.4" r="1.65"/><circle cx="307.1" cy="245.1" r="1.65"/><circle cx="307.3" cy="252.8" r="1.65"/><circle cx="307.2" cy="253.7" r="1.65"/><circle cx="307.6" cy="246.2" r="1.65"/><circle cx="307.8" cy="233.0" r="1.65"/><circle cx="308.1" cy="241.2" r="1.65"/><circle cx="308.4" cy="250.5" r="1.65"/><circle cx="308.5" cy="241.0" r="1.65"/><circle cx="308.6" cy="251.3" r="1.65"/><circle cx="308.9" cy="251.7" r="1.65"/><circle cx="309.2" cy="231.1" r="1.65"/><circle cx="309.2" cy="259.7" r="1.65"/><circle cx="309.4" cy="230.4" r="1.65"/><circle cx="309.6" cy="253.5" r="1.65"/><circle cx="309.8" cy="247.2" r="1.65"/><circle cx="310.0" cy="230.7" r="1.65"/><circle cx="310.2" cy="247.9" r="1.65"/><circle cx="310.7" cy="243.2" r="1.65"/><circle cx="310.8" cy="241.9" r="1.65"/><circle cx="311.2" cy="244.0" r="1.65"/><circle cx="311.4" cy="249.2" r="1.65"/><circle cx="311.5" cy="268.8" r="1.65"/><circle cx="311.8" cy="261.2" r="1.65"/><circle cx="311.7" cy="241.2" r="1.65"/><circle cx="312.0" cy="251.7" r="1.65"/><circle cx="312.4" cy="243.7" r="1.65"/><circle cx="312.5" cy="242.0" r="1.65"/><circle cx="312.9" cy="261.8" r="1.65"/><circle cx="313.0" cy="234.4" r="1.65"/><circle cx="313.3" cy="241.4" r="1.65"/><circle cx="313.3" cy="249.2" r="1.65"/><circle cx="313.5" cy="251.3" r="1.65"/><circle cx="314.0" cy="258.4" r="1.65"/><circle cx="314.1" cy="247.7" r="1.65"/><circle cx="314.3" cy="250.3" r="1.65"/><circle cx="314.6" cy="252.9" r="1.65"/><circle cx="314.8" cy="255.7" r="1.65"/><circle cx="315.0" cy="239.5" r="1.65"/><circle cx="315.1" cy="235.7" r="1.65"/><circle cx="315.3" cy="232.4" r="1.65"/><circle cx="315.6" cy="256.1" r="1.65"/><circle cx="315.6" cy="246.7" r="1.65"/><circle cx="316.0" cy="249.3" r="1.65"/><circle cx="316.2" cy="245.6" r="1.65"/><circle cx="316.5" cy="256.6" r="1.65"/><circle cx="316.7" cy="252.7" r="1.65"/><circle cx="316.7" cy="237.5" r="1.65"/><circle cx="317.0" cy="251.9" r="1.65"/><circle cx="317.2" cy="257.9" r="1.65"/><circle cx="317.4" cy="251.3" r="1.65"/><circle cx="317.5" cy="236.1" r="1.65"/><circle cx="317.8" cy="237.6" r="1.65"/><circle cx="318.1" cy="251.7" r="1.65"/><circle cx="318.2" cy="246.5" r="1.65"/><circle cx="318.6" cy="246.5" r="1.65"/><circle cx="318.8" cy="255.8" r="1.65"/><circle cx="318.8" cy="246.3" r="1.65"/><circle cx="319.1" cy="244.4" r="1.65"/><circle cx="319.5" cy="235.5" r="1.65"/><circle cx="319.7" cy="246.9" r="1.65"/><circle cx="319.7" cy="247.4" r="1.65"/><circle cx="320.0" cy="247.9" r="1.65"/><circle cx="320.2" cy="231.7" r="1.65"/><circle cx="320.4" cy="252.7" r="1.65"/><circle cx="320.5" cy="258.4" r="1.65"/><circle cx="320.8" cy="257.1" r="1.65"/><circle cx="321.1" cy="240.9" r="1.65"/><circle cx="321.3" cy="247.9" r="1.65"/><circle cx="321.3" cy="262.7" r="1.65"/><circle cx="321.8" cy="250.9" r="1.65"/><circle cx="322.1" cy="250.6" r="1.65"/><circle cx="321.9" cy="240.0" r="1.65"/><circle cx="322.2" cy="244.8" r="1.65"/><circle cx="322.5" cy="266.9" r="1.65"/><circle cx="322.6" cy="248.2" r="1.65"/><circle cx="322.8" cy="253.6" r="1.65"/><circle cx="323.1" cy="243.7" r="1.65"/><circle cx="323.3" cy="244.6" r="1.65"/><circle cx="323.6" cy="268.3" r="1.65"/><circle cx="323.7" cy="252.3" r="1.65"/><circle cx="324.0" cy="254.9" r="1.65"/><circle cx="324.3" cy="255.3" r="1.65"/><circle cx="324.5" cy="238.9" r="1.65"/><circle cx="324.6" cy="240.6" r="1.65"/><circle cx="324.8" cy="241.0" r="1.65"/><circle cx="325.2" cy="259.9" r="1.65"/><circle cx="325.4" cy="243.6" r="1.65"/><circle cx="325.4" cy="258.9" r="1.65"/><circle cx="325.6" cy="256.4" r="1.65"/><circle cx="325.7" cy="236.5" r="1.65"/><circle cx="326.1" cy="258.0" r="1.65"/><circle cx="326.5" cy="254.4" r="1.65"/><circle cx="326.5" cy="255.8" r="1.65"/><circle cx="326.7" cy="247.0" r="1.65"/><circle cx="327.0" cy="260.3" r="1.65"/><circle cx="327.1" cy="256.0" r="1.65"/><circle cx="327.2" cy="243.0" r="1.65"/><circle cx="327.4" cy="244.8" r="1.65"/><circle cx="328.0" cy="249.8" r="1.65"/><circle cx="327.9" cy="266.2" r="1.65"/><circle cx="328.4" cy="253.4" r="1.65"/><circle cx="328.6" cy="251.2" r="1.65"/><circle cx="328.5" cy="267.0" r="1.65"/><circle cx="329.0" cy="247.2" r="1.65"/><circle cx="329.0" cy="244.7" r="1.65"/><circle cx="329.3" cy="258.6" r="1.65"/><circle cx="329.4" cy="256.0" r="1.65"/><circle cx="329.8" cy="221.8" r="1.65"/><circle cx="329.9" cy="246.4" r="1.65"/><circle cx="330.3" cy="238.9" r="1.65"/><circle cx="330.4" cy="262.0" r="1.65"/><circle cx="330.5" cy="240.2" r="1.65"/><circle cx="331.0" cy="233.0" r="1.65"/><circle cx="331.0" cy="245.2" r="1.65"/><circle cx="331.4" cy="233.5" r="1.65"/><circle cx="331.4" cy="233.6" r="1.65"/><circle cx="331.6" cy="260.5" r="1.65"/><circle cx="331.9" cy="230.1" r="1.65"/><circle cx="332.3" cy="253.1" r="1.65"/><circle cx="332.5" cy="244.8" r="1.65"/><circle cx="332.4" cy="254.2" r="1.65"/><circle cx="332.7" cy="239.5" r="1.65"/><circle cx="333.1" cy="245.4" r="1.65"/><circle cx="333.2" cy="240.1" r="1.65"/><circle cx="333.5" cy="255.9" r="1.65"/><circle cx="333.5" cy="247.7" r="1.65"/><circle cx="333.9" cy="242.2" r="1.65"/><circle cx="333.8" cy="249.9" r="1.65"/><circle cx="334.3" cy="249.4" r="1.65"/><circle cx="334.6" cy="261.2" r="1.65"/><circle cx="334.8" cy="258.1" r="1.65"/><circle cx="334.8" cy="264.3" r="1.65"/><circle cx="335.2" cy="252.5" r="1.65"/><circle cx="335.5" cy="249.6" r="1.65"/><circle cx="335.6" cy="248.7" r="1.65"/><circle cx="335.5" cy="248.3" r="1.65"/><circle cx="336.1" cy="234.6" r="1.65"/><circle cx="336.2" cy="257.5" r="1.65"/><circle cx="336.2" cy="259.0" r="1.65"/><circle cx="336.4" cy="246.7" r="1.65"/><circle cx="336.9" cy="251.0" r="1.65"/><circle cx="337.2" cy="247.0" r="1.65"/><circle cx="337.4" cy="238.9" r="1.65"/><circle cx="337.6" cy="255.4" r="1.65"/><circle cx="337.7" cy="233.5" r="1.65"/><circle cx="337.8" cy="248.6" r="1.65"/><circle cx="337.9" cy="230.2" r="1.65"/><circle cx="338.1" cy="256.4" r="1.65"/><circle cx="338.4" cy="257.9" r="1.65"/><circle cx="338.7" cy="261.6" r="1.65"/><circle cx="339.1" cy="242.4" r="1.65"/><circle cx="339.3" cy="241.4" r="1.65"/><circle cx="339.1" cy="255.3" r="1.65"/><circle cx="339.6" cy="243.6" r="1.65"/><circle cx="339.7" cy="236.5" r="1.65"/><circle cx="340.1" cy="255.3" r="1.65"/><circle cx="340.1" cy="255.6" r="1.65"/><circle cx="340.2" cy="247.6" r="1.65"/><circle cx="340.6" cy="253.7" r="1.65"/><circle cx="340.9" cy="242.0" r="1.65"/><circle cx="341.1" cy="235.9" r="1.65"/><circle cx="341.4" cy="240.1" r="1.65"/><circle cx="341.4" cy="249.4" r="1.65"/><circle cx="341.5" cy="261.5" r="1.65"/><circle cx="341.7" cy="241.7" r="1.65"/><circle cx="342.1" cy="250.3" r="1.65"/><circle cx="342.4" cy="240.1" r="1.65"/><circle cx="342.4" cy="237.1" r="1.65"/><circle cx="342.7" cy="249.0" r="1.65"/><circle cx="343.1" cy="223.1" r="1.65"/><circle cx="343.3" cy="251.2" r="1.65"/><circle cx="343.3" cy="259.6" r="1.65"/><circle cx="343.6" cy="245.8" r="1.65"/><circle cx="343.8" cy="243.2" r="1.65"/><circle cx="343.8" cy="257.2" r="1.65"/><circle cx="344.3" cy="253.8" r="1.65"/><circle cx="344.3" cy="245.6" r="1.65"/><circle cx="344.8" cy="254.1" r="1.65"/><circle cx="344.8" cy="256.0" r="1.65"/><circle cx="344.9" cy="238.4" r="1.65"/><circle cx="345.1" cy="241.9" r="1.65"/><circle cx="345.5" cy="254.7" r="1.65"/><circle cx="345.6" cy="248.2" r="1.65"/><circle cx="345.9" cy="237.5" r="1.65"/><circle cx="346.3" cy="244.3" r="1.65"/><circle cx="346.2" cy="242.0" r="1.65"/><circle cx="346.7" cy="250.4" r="1.65"/><circle cx="346.8" cy="253.4" r="1.65"/><circle cx="347.2" cy="250.3" r="1.65"/><circle cx="347.1" cy="247.0" r="1.65"/><circle cx="347.3" cy="258.5" r="1.65"/><circle cx="347.6" cy="251.2" r="1.65"/><circle cx="347.7" cy="252.8" r="1.65"/><circle cx="347.9" cy="229.8" r="1.65"/><circle cx="348.3" cy="253.8" r="1.65"/><circle cx="348.7" cy="245.9" r="1.65"/><circle cx="348.7" cy="252.9" r="1.65"/><circle cx="348.9" cy="253.4" r="1.65"/><circle cx="349.2" cy="235.8" r="1.65"/><circle cx="349.4" cy="249.6" r="1.65"/><circle cx="349.5" cy="255.8" r="1.65"/><circle cx="349.7" cy="252.3" r="1.65"/><circle cx="350.1" cy="237.2" r="1.65"/><circle cx="350.3" cy="239.0" r="1.65"/><circle cx="350.2" cy="257.4" r="1.65"/><circle cx="350.8" cy="258.6" r="1.65"/><circle cx="351.0" cy="236.2" r="1.65"/><circle cx="351.2" cy="236.7" r="1.65"/><circle cx="351.2" cy="245.1" r="1.65"/><circle cx="351.5" cy="255.3" r="1.65"/><circle cx="351.7" cy="250.1" r="1.65"/><circle cx="351.9" cy="251.1" r="1.65"/><circle cx="352.2" cy="246.8" r="1.65"/><circle cx="352.3" cy="248.3" r="1.65"/><circle cx="352.6" cy="250.5" r="1.65"/><circle cx="352.6" cy="261.7" r="1.65"/><circle cx="352.9" cy="252.8" r="1.65"/><circle cx="353.1" cy="249.0" r="1.65"/><circle cx="353.4" cy="255.4" r="1.65"/><circle cx="353.5" cy="248.8" r="1.65"/><circle cx="353.9" cy="238.6" r="1.65"/><circle cx="353.9" cy="246.4" r="1.65"/><circle cx="354.2" cy="244.6" r="1.65"/><circle cx="354.5" cy="249.6" r="1.65"/><circle cx="354.6" cy="238.7" r="1.65"/><circle cx="354.7" cy="257.2" r="1.65"/><circle cx="355.2" cy="252.0" r="1.65"/><circle cx="355.3" cy="238.0" r="1.65"/><circle cx="355.3" cy="247.3" r="1.65"/><circle cx="355.8" cy="256.1" r="1.65"/><circle cx="355.9" cy="240.2" r="1.65"/><circle cx="356.1" cy="258.1" r="1.65"/><circle cx="356.2" cy="252.2" r="1.65"/><circle cx="356.4" cy="253.7" r="1.65"/><circle cx="356.8" cy="243.3" r="1.65"/><circle cx="356.9" cy="249.4" r="1.65"/><circle cx="357.1" cy="256.3" r="1.65"/><circle cx="357.4" cy="251.6" r="1.65"/><circle cx="357.5" cy="230.3" r="1.65"/><circle cx="357.8" cy="248.0" r="1.65"/><circle cx="358.0" cy="244.1" r="1.65"/><circle cx="358.1" cy="272.6" r="1.65"/><circle cx="358.6" cy="246.8" r="1.65"/><circle cx="358.8" cy="256.2" r="1.65"/><circle cx="358.9" cy="249.3" r="1.65"/><circle cx="359.0" cy="240.6" r="1.65"/><circle cx="359.3" cy="245.4" r="1.65"/><circle cx="359.6" cy="255.2" r="1.65"/><circle cx="359.8" cy="243.4" r="1.65"/><circle cx="359.9" cy="259.8" r="1.65"/><circle cx="360.2" cy="253.1" r="1.65"/><circle cx="360.6" cy="249.1" r="1.65"/><circle cx="360.6" cy="239.3" r="1.65"/><circle cx="360.8" cy="256.0" r="1.65"/><circle cx="361.0" cy="240.9" r="1.65"/><circle cx="361.2" cy="254.8" r="1.65"/><circle cx="361.4" cy="246.8" r="1.65"/><circle cx="361.5" cy="257.9" r="1.65"/><circle cx="362.0" cy="236.2" r="1.65"/><circle cx="362.0" cy="253.8" r="1.65"/><circle cx="362.4" cy="250.6" r="1.65"/><circle cx="362.5" cy="252.3" r="1.65"/><circle cx="362.7" cy="252.6" r="1.65"/><circle cx="363.0" cy="243.7" r="1.65"/><circle cx="363.2" cy="259.1" r="1.65"/><circle cx="363.4" cy="263.0" r="1.65"/><circle cx="363.8" cy="254.3" r="1.65"/><circle cx="363.8" cy="250.7" r="1.65"/><circle cx="364.1" cy="228.1" r="1.65"/><circle cx="364.4" cy="245.5" r="1.65"/><circle cx="364.4" cy="231.1" r="1.65"/><circle cx="364.8" cy="252.3" r="1.65"/><circle cx="364.7" cy="242.3" r="1.65"/><circle cx="365.1" cy="245.5" r="1.65"/><circle cx="365.2" cy="244.7" r="1.65"/><circle cx="365.7" cy="234.5" r="1.65"/><circle cx="365.9" cy="246.5" r="1.65"/><circle cx="365.8" cy="249.1" r="1.65"/><circle cx="366.3" cy="259.2" r="1.65"/><circle cx="366.5" cy="251.3" r="1.65"/><circle cx="366.5" cy="241.6" r="1.65"/><circle cx="366.9" cy="245.3" r="1.65"/><circle cx="367.2" cy="247.5" r="1.65"/><circle cx="367.0" cy="258.1" r="1.65"/><circle cx="367.4" cy="248.9" r="1.65"/><circle cx="367.7" cy="256.1" r="1.65"/><circle cx="368.0" cy="253.1" r="1.65"/><circle cx="367.9" cy="262.9" r="1.65"/><circle cx="368.1" cy="257.6" r="1.65"/><circle cx="368.4" cy="254.7" r="1.65"/><circle cx="368.5" cy="246.6" r="1.65"/><circle cx="368.9" cy="248.8" r="1.65"/><circle cx="369.2" cy="251.4" r="1.65"/><circle cx="369.4" cy="238.9" r="1.65"/><circle cx="369.7" cy="259.8" r="1.65"/><circle cx="369.8" cy="241.5" r="1.65"/><circle cx="369.9" cy="245.4" r="1.65"/><circle cx="370.1" cy="244.0" r="1.65"/><circle cx="370.4" cy="257.1" r="1.65"/><circle cx="370.5" cy="229.4" r="1.65"/><circle cx="370.8" cy="247.2" r="1.65"/><circle cx="371.1" cy="247.0" r="1.65"/><circle cx="371.2" cy="259.1" r="1.65"/><circle cx="371.5" cy="237.5" r="1.65"/><circle cx="371.5" cy="261.2" r="1.65"/><circle cx="371.8" cy="246.6" r="1.65"/><circle cx="372.1" cy="248.5" r="1.65"/><circle cx="372.3" cy="251.3" r="1.65"/><circle cx="372.4" cy="249.1" r="1.65"/><circle cx="372.8" cy="250.3" r="1.65"/><circle cx="372.8" cy="242.7" r="1.65"/><circle cx="373.1" cy="264.7" r="1.65"/><circle cx="373.4" cy="230.3" r="1.65"/><circle cx="373.7" cy="261.5" r="1.65"/><circle cx="374.0" cy="244.7" r="1.65"/><circle cx="374.0" cy="254.0" r="1.65"/><circle cx="374.4" cy="248.1" r="1.65"/><circle cx="374.6" cy="260.0" r="1.65"/><circle cx="374.8" cy="256.6" r="1.65"/><circle cx="374.9" cy="243.6" r="1.65"/><circle cx="375.1" cy="245.1" r="1.65"/><circle cx="375.2" cy="239.5" r="1.65"/><circle cx="375.6" cy="250.6" r="1.65"/><circle cx="375.7" cy="246.6" r="1.65"/><circle cx="375.8" cy="238.4" r="1.65"/><circle cx="376.1" cy="235.3" r="1.65"/><circle cx="376.3" cy="256.1" r="1.65"/><circle cx="376.8" cy="255.3" r="1.65"/><circle cx="377.0" cy="253.9" r="1.65"/><circle cx="376.9" cy="257.9" r="1.65"/><circle cx="377.0" cy="249.1" r="1.65"/><circle cx="377.4" cy="244.5" r="1.65"/><circle cx="377.6" cy="249.2" r="1.65"/><circle cx="377.7" cy="232.0" r="1.65"/><circle cx="378.0" cy="250.3" r="1.65"/><circle cx="378.4" cy="252.0" r="1.65"/><circle cx="378.4" cy="244.9" r="1.65"/><circle cx="378.5" cy="240.4" r="1.65"/><circle cx="378.8" cy="243.7" r="1.65"/><circle cx="379.1" cy="243.8" r="1.65"/><circle cx="379.2" cy="244.7" r="1.65"/><circle cx="379.6" cy="247.0" r="1.65"/><circle cx="379.8" cy="240.4" r="1.65"/><circle cx="380.0" cy="246.0" r="1.65"/><circle cx="380.2" cy="249.6" r="1.65"/><circle cx="380.4" cy="254.6" r="1.65"/><circle cx="380.4" cy="250.2" r="1.65"/><circle cx="380.7" cy="254.4" r="1.65"/><circle cx="381.0" cy="261.6" r="1.65"/><circle cx="381.4" cy="243.2" r="1.65"/><circle cx="381.4" cy="228.6" r="1.65"/><circle cx="381.9" cy="252.7" r="1.65"/><circle cx="381.7" cy="244.5" r="1.65"/><circle cx="382.1" cy="245.5" r="1.65"/><circle cx="382.1" cy="261.1" r="1.65"/><circle cx="382.6" cy="240.9" r="1.65"/><circle cx="382.9" cy="243.2" r="1.65"/><circle cx="383.0" cy="255.5" r="1.65"/><circle cx="383.2" cy="253.3" r="1.65"/><circle cx="383.6" cy="240.7" r="1.65"/><circle cx="383.7" cy="239.1" r="1.65"/><circle cx="384.0" cy="249.0" r="1.65"/><circle cx="384.1" cy="243.7" r="1.65"/><circle cx="384.3" cy="251.4" r="1.65"/><circle cx="384.3" cy="241.5" r="1.65"/><circle cx="384.6" cy="253.6" r="1.65"/><circle cx="384.8" cy="241.0" r="1.65"/><circle cx="385.0" cy="256.1" r="1.65"/><circle cx="385.3" cy="249.4" r="1.65"/><circle cx="385.5" cy="232.0" r="1.65"/><circle cx="385.6" cy="242.6" r="1.65"/><circle cx="386.0" cy="237.8" r="1.65"/><circle cx="386.3" cy="248.2" r="1.65"/><circle cx="386.2" cy="231.2" r="1.65"/><circle cx="386.7" cy="235.5" r="1.65"/><circle cx="386.6" cy="262.8" r="1.65"/><circle cx="386.9" cy="249.2" r="1.65"/><circle cx="387.3" cy="261.3" r="1.65"/><circle cx="387.4" cy="235.0" r="1.65"/><circle cx="387.5" cy="241.2" r="1.65"/><circle cx="387.9" cy="253.6" r="1.65"/><circle cx="388.0" cy="235.1" r="1.65"/><circle cx="388.1" cy="248.0" r="1.65"/><circle cx="388.6" cy="246.1" r="1.65"/><circle cx="388.7" cy="245.3" r="1.65"/><circle cx="388.9" cy="221.8" r="1.65"/><circle cx="389.3" cy="251.9" r="1.65"/><circle cx="389.1" cy="240.3" r="1.65"/><circle cx="389.5" cy="265.9" r="1.65"/><circle cx="389.7" cy="246.4" r="1.65"/><circle cx="390.0" cy="256.7" r="1.65"/><circle cx="390.4" cy="253.4" r="1.65"/><circle cx="390.2" cy="249.1" r="1.65"/><circle cx="390.7" cy="262.3" r="1.65"/><circle cx="390.9" cy="242.7" r="1.65"/><circle cx="391.1" cy="253.2" r="1.65"/><circle cx="391.2" cy="256.2" r="1.65"/><circle cx="391.6" cy="237.6" r="1.65"/><circle cx="391.8" cy="240.0" r="1.65"/><circle cx="392.0" cy="248.3" r="1.65"/><circle cx="392.2" cy="251.5" r="1.65"/><circle cx="392.3" cy="248.2" r="1.65"/><circle cx="392.5" cy="247.6" r="1.65"/><circle cx="392.9" cy="238.8" r="1.65"/><circle cx="392.9" cy="246.4" r="1.65"/><circle cx="393.2" cy="251.6" r="1.65"/><circle cx="393.5" cy="255.2" r="1.65"/><circle cx="393.7" cy="241.2" r="1.65"/><circle cx="393.9" cy="247.9" r="1.65"/><circle cx="393.9" cy="247.8" r="1.65"/><circle cx="394.2" cy="259.5" r="1.65"/><circle cx="394.6" cy="234.6" r="1.65"/><circle cx="394.6" cy="256.5" r="1.65"/><circle cx="395.0" cy="243.6" r="1.65"/><circle cx="395.1" cy="241.9" r="1.65"/><circle cx="395.2" cy="240.2" r="1.65"/><circle cx="395.4" cy="245.7" r="1.65"/><circle cx="395.8" cy="243.7" r="1.65"/><circle cx="395.9" cy="237.7" r="1.65"/><circle cx="396.0" cy="241.8" r="1.65"/><circle cx="396.2" cy="246.2" r="1.65"/><circle cx="396.7" cy="246.7" r="1.65"/><circle cx="397.0" cy="258.8" r="1.65"/><circle cx="396.9" cy="239.0" r="1.65"/><circle cx="397.2" cy="254.9" r="1.65"/><circle cx="397.3" cy="248.5" r="1.65"/><circle cx="397.7" cy="243.7" r="1.65"/><circle cx="398.0" cy="238.0" r="1.65"/><circle cx="398.2" cy="242.9" r="1.65"/><circle cx="398.1" cy="246.5" r="1.65"/><circle cx="398.3" cy="244.8" r="1.65"/><circle cx="398.5" cy="238.1" r="1.65"/><circle cx="398.9" cy="257.1" r="1.65"/><circle cx="399.0" cy="241.0" r="1.65"/><circle cx="399.3" cy="251.6" r="1.65"/><circle cx="399.5" cy="242.7" r="1.65"/><circle cx="399.7" cy="248.8" r="1.65"/><circle cx="400.0" cy="240.6" r="1.65"/><circle cx="400.2" cy="231.1" r="1.65"/><circle cx="400.3" cy="244.3" r="1.65"/><circle cx="400.5" cy="262.6" r="1.65"/><circle cx="400.8" cy="238.9" r="1.65"/><circle cx="400.9" cy="242.1" r="1.65"/><circle cx="401.3" cy="249.5" r="1.65"/><circle cx="401.4" cy="255.2" r="1.65"/><circle cx="401.8" cy="233.1" r="1.65"/><circle cx="402.1" cy="244.0" r="1.65"/><circle cx="402.3" cy="242.4" r="1.65"/><circle cx="402.3" cy="239.6" r="1.65"/><circle cx="402.5" cy="245.3" r="1.65"/><circle cx="402.8" cy="243.5" r="1.65"/><circle cx="402.9" cy="242.6" r="1.65"/><circle cx="403.3" cy="263.8" r="1.65"/><circle cx="403.2" cy="251.0" r="1.65"/><circle cx="403.8" cy="256.2" r="1.65"/><circle cx="403.7" cy="253.5" r="1.65"/><circle cx="404.0" cy="257.1" r="1.65"/><circle cx="404.2" cy="252.3" r="1.65"/><circle cx="404.3" cy="253.6" r="1.65"/><circle cx="404.8" cy="256.6" r="1.65"/><circle cx="404.9" cy="246.7" r="1.65"/><circle cx="405.1" cy="245.4" r="1.65"/><circle cx="405.4" cy="262.0" r="1.65"/><circle cx="405.6" cy="238.8" r="1.65"/><circle cx="405.5" cy="239.2" r="1.65"/><circle cx="405.9" cy="253.1" r="1.65"/><circle cx="406.3" cy="246.3" r="1.65"/><circle cx="406.5" cy="250.0" r="1.65"/><circle cx="406.6" cy="253.1" r="1.65"/><circle cx="406.8" cy="236.2" r="1.65"/><circle cx="406.9" cy="242.4" r="1.65"/><circle cx="407.4" cy="239.4" r="1.65"/><circle cx="407.3" cy="249.8" r="1.65"/><circle cx="407.6" cy="252.4" r="1.65"/><circle cx="408.0" cy="262.0" r="1.65"/><circle cx="408.2" cy="247.2" r="1.65"/><circle cx="408.4" cy="256.3" r="1.65"/><circle cx="408.5" cy="244.6" r="1.65"/><circle cx="408.8" cy="250.7" r="1.65"/><circle cx="408.8" cy="248.7" r="1.65"/><circle cx="409.1" cy="247.4" r="1.65"/><circle cx="409.3" cy="251.1" r="1.65"/><circle cx="409.5" cy="249.1" r="1.65"/><circle cx="409.9" cy="242.1" r="1.65"/><circle cx="409.8" cy="242.1" r="1.65"/><circle cx="410.1" cy="246.2" r="1.65"/><circle cx="410.6" cy="250.6" r="1.65"/><circle cx="410.6" cy="248.4" r="1.65"/><circle cx="410.6" cy="228.7" r="1.65"/><circle cx="411.0" cy="250.8" r="1.65"/><circle cx="411.2" cy="232.8" r="1.65"/><circle cx="411.3" cy="243.1" r="1.65"/><circle cx="411.5" cy="251.2" r="1.65"/><circle cx="411.8" cy="256.3" r="1.65"/><circle cx="412.0" cy="246.4" r="1.65"/></g>
<g fill="rgb(222,45,60)" fill-opacity="0.5"><circle cx="135.5" cy="297.3" r="1.65"/><circle cx="135.8" cy="294.9" r="1.65"/><circle cx="136.2" cy="303.3" r="1.65"/><circle cx="136.4" cy="313.0" r="1.65"/><circle cx="136.7" cy="295.1" r="1.65"/><circle cx="136.9" cy="298.7" r="1.65"/><circle cx="136.8" cy="301.0" r="1.65"/><circle cx="137.3" cy="312.7" r="1.65"/><circle cx="137.2" cy="307.3" r="1.65"/><circle cx="137.6" cy="307.7" r="1.65"/><circle cx="137.9" cy="303.0" r="1.65"/><circle cx="138.0" cy="299.7" r="1.65"/><circle cx="138.2" cy="310.4" r="1.65"/><circle cx="138.5" cy="299.5" r="1.65"/><circle cx="138.5" cy="304.6" r="1.65"/><circle cx="138.8" cy="307.0" r="1.65"/><circle cx="139.1" cy="320.3" r="1.65"/><circle cx="139.3" cy="303.0" r="1.65"/><circle cx="139.7" cy="294.2" r="1.65"/><circle cx="139.7" cy="299.5" r="1.65"/><circle cx="140.1" cy="298.1" r="1.65"/><circle cx="140.1" cy="313.7" r="1.65"/><circle cx="140.2" cy="300.1" r="1.65"/><circle cx="140.5" cy="304.5" r="1.65"/><circle cx="141.0" cy="307.8" r="1.65"/><circle cx="141.1" cy="296.9" r="1.65"/><circle cx="141.2" cy="312.4" r="1.65"/><circle cx="141.5" cy="293.9" r="1.65"/><circle cx="141.7" cy="297.9" r="1.65"/><circle cx="141.8" cy="298.8" r="1.65"/><circle cx="142.2" cy="298.8" r="1.65"/><circle cx="142.2" cy="300.7" r="1.65"/><circle cx="142.4" cy="304.1" r="1.65"/><circle cx="142.9" cy="305.1" r="1.65"/><circle cx="143.1" cy="300.0" r="1.65"/><circle cx="143.2" cy="310.1" r="1.65"/><circle cx="143.2" cy="301.0" r="1.65"/><circle cx="143.6" cy="297.2" r="1.65"/><circle cx="143.8" cy="308.6" r="1.65"/><circle cx="144.0" cy="298.0" r="1.65"/><circle cx="144.1" cy="308.1" r="1.65"/><circle cx="144.5" cy="315.9" r="1.65"/><circle cx="144.6" cy="310.9" r="1.65"/><circle cx="144.8" cy="295.7" r="1.65"/><circle cx="145.0" cy="313.0" r="1.65"/><circle cx="145.2" cy="300.5" r="1.65"/><circle cx="145.5" cy="316.1" r="1.65"/><circle cx="145.9" cy="309.5" r="1.65"/><circle cx="146.0" cy="301.8" r="1.65"/><circle cx="146.2" cy="306.3" r="1.65"/><circle cx="146.4" cy="306.1" r="1.65"/><circle cx="146.7" cy="310.1" r="1.65"/><circle cx="146.9" cy="294.7" r="1.65"/><circle cx="146.8" cy="291.4" r="1.65"/><circle cx="147.2" cy="297.5" r="1.65"/><circle cx="147.3" cy="299.1" r="1.65"/><circle cx="147.6" cy="293.7" r="1.65"/><circle cx="147.7" cy="292.9" r="1.65"/><circle cx="148.1" cy="296.0" r="1.65"/><circle cx="148.4" cy="302.1" r="1.65"/><circle cx="148.6" cy="296.7" r="1.65"/><circle cx="148.5" cy="302.6" r="1.65"/><circle cx="148.8" cy="308.5" r="1.65"/><circle cx="149.0" cy="300.3" r="1.65"/><circle cx="149.2" cy="303.4" r="1.65"/><circle cx="149.6" cy="297.0" r="1.65"/><circle cx="149.9" cy="308.4" r="1.65"/><circle cx="150.1" cy="299.6" r="1.65"/><circle cx="150.0" cy="294.8" r="1.65"/><circle cx="150.3" cy="302.5" r="1.65"/><circle cx="150.7" cy="301.6" r="1.65"/><circle cx="150.9" cy="300.7" r="1.65"/><circle cx="151.1" cy="292.5" r="1.65"/><circle cx="151.4" cy="314.8" r="1.65"/><circle cx="151.5" cy="294.8" r="1.65"/><circle cx="151.6" cy="298.9" r="1.65"/><circle cx="151.7" cy="300.3" r="1.65"/><circle cx="152.1" cy="302.9" r="1.65"/><circle cx="152.4" cy="306.6" r="1.65"/><circle cx="152.6" cy="302.0" r="1.65"/><circle cx="152.6" cy="299.1" r="1.65"/><circle cx="153.0" cy="310.1" r="1.65"/><circle cx="153.3" cy="316.4" r="1.65"/><circle cx="153.2" cy="304.1" r="1.65"/><circle cx="153.7" cy="311.9" r="1.65"/><circle cx="153.9" cy="298.5" r="1.65"/><circle cx="154.0" cy="297.3" r="1.65"/><circle cx="154.2" cy="308.1" r="1.65"/><circle cx="154.6" cy="303.7" r="1.65"/><circle cx="154.6" cy="312.5" r="1.65"/><circle cx="155.0" cy="295.9" r="1.65"/><circle cx="155.1" cy="301.2" r="1.65"/><circle cx="155.2" cy="302.0" r="1.65"/><circle cx="155.6" cy="307.5" r="1.65"/><circle cx="155.8" cy="308.1" r="1.65"/><circle cx="155.8" cy="311.3" r="1.65"/><circle cx="156.0" cy="309.4" r="1.65"/><circle cx="156.5" cy="302.1" r="1.65"/><circle cx="156.7" cy="308.4" r="1.65"/><circle cx="156.7" cy="305.4" r="1.65"/><circle cx="157.2" cy="297.7" r="1.65"/><circle cx="157.0" cy="301.0" r="1.65"/><circle cx="157.4" cy="311.0" r="1.65"/><circle cx="157.8" cy="303.1" r="1.65"/><circle cx="157.7" cy="304.4" r="1.65"/><circle cx="157.8" cy="306.9" r="1.65"/><circle cx="158.4" cy="303.3" r="1.65"/><circle cx="158.3" cy="297.2" r="1.65"/><circle cx="158.6" cy="308.0" r="1.65"/><circle cx="159.0" cy="300.4" r="1.65"/><circle cx="159.2" cy="306.1" r="1.65"/><circle cx="159.5" cy="300.1" r="1.65"/><circle cx="159.6" cy="304.5" r="1.65"/><circle cx="159.8" cy="305.9" r="1.65"/><circle cx="159.8" cy="293.2" r="1.65"/><circle cx="160.2" cy="297.7" r="1.65"/><circle cx="160.4" cy="295.0" r="1.65"/><circle cx="160.7" cy="308.2" r="1.65"/><circle cx="160.7" cy="307.2" r="1.65"/><circle cx="161.2" cy="297.5" r="1.65"/><circle cx="161.4" cy="296.4" r="1.65"/><circle cx="161.6" cy="306.7" r="1.65"/><circle cx="161.8" cy="297.1" r="1.65"/><circle cx="161.8" cy="308.2" r="1.65"/><circle cx="162.2" cy="299.8" r="1.65"/><circle cx="162.4" cy="300.6" r="1.65"/><circle cx="162.6" cy="305.7" r="1.65"/><circle cx="162.6" cy="315.9" r="1.65"/><circle cx="163.0" cy="307.2" r="1.65"/><circle cx="163.2" cy="305.4" r="1.65"/><circle cx="163.5" cy="302.7" r="1.65"/><circle cx="163.7" cy="310.1" r="1.65"/><circle cx="163.9" cy="308.0" r="1.65"/><circle cx="164.0" cy="308.5" r="1.65"/><circle cx="164.3" cy="299.9" r="1.65"/><circle cx="164.4" cy="297.7" r="1.65"/><circle cx="164.6" cy="302.1" r="1.65"/><circle cx="164.7" cy="298.3" r="1.65"/><circle cx="164.9" cy="306.8" r="1.65"/><circle cx="165.3" cy="299.7" r="1.65"/><circle cx="165.5" cy="305.5" r="1.65"/><circle cx="165.9" cy="307.0" r="1.65"/><circle cx="165.8" cy="301.9" r="1.65"/><circle cx="166.3" cy="302.6" r="1.65"/><circle cx="166.2" cy="299.8" r="1.65"/><circle cx="166.7" cy="307.1" r="1.65"/><circle cx="166.9" cy="295.8" r="1.65"/><circle cx="166.8" cy="308.9" r="1.65"/><circle cx="167.0" cy="307.6" r="1.65"/><circle cx="167.6" cy="297.9" r="1.65"/><circle cx="167.7" cy="305.2" r="1.65"/><circle cx="167.7" cy="317.7" r="1.65"/><circle cx="168.0" cy="318.0" r="1.65"/><circle cx="168.2" cy="309.2" r="1.65"/><circle cx="168.3" cy="300.5" r="1.65"/><circle cx="168.5" cy="300.2" r="1.65"/><circle cx="169.1" cy="307.5" r="1.65"/><circle cx="169.3" cy="289.7" r="1.65"/><circle cx="169.5" cy="298.5" r="1.65"/><circle cx="169.5" cy="310.7" r="1.65"/><circle cx="169.6" cy="309.8" r="1.65"/><circle cx="170.0" cy="301.6" r="1.65"/><circle cx="170.1" cy="293.9" r="1.65"/><circle cx="170.3" cy="299.6" r="1.65"/><circle cx="170.8" cy="297.5" r="1.65"/><circle cx="171.0" cy="292.5" r="1.65"/><circle cx="170.9" cy="307.2" r="1.65"/><circle cx="171.4" cy="299.5" r="1.65"/><circle cx="171.4" cy="303.8" r="1.65"/><circle cx="171.6" cy="304.9" r="1.65"/><circle cx="171.8" cy="303.7" r="1.65"/><circle cx="172.1" cy="303.3" r="1.65"/><circle cx="172.2" cy="297.6" r="1.65"/><circle cx="172.6" cy="305.0" r="1.65"/><circle cx="172.6" cy="307.5" r="1.65"/><circle cx="172.8" cy="308.1" r="1.65"/><circle cx="173.2" cy="309.8" r="1.65"/><circle cx="173.3" cy="301.5" r="1.65"/><circle cx="173.5" cy="305.6" r="1.65"/><circle cx="173.6" cy="313.8" r="1.65"/><circle cx="173.9" cy="307.3" r="1.65"/><circle cx="174.1" cy="293.1" r="1.65"/><circle cx="174.4" cy="297.7" r="1.65"/><circle cx="174.7" cy="301.2" r="1.65"/><circle cx="174.9" cy="314.7" r="1.65"/><circle cx="175.2" cy="296.7" r="1.65"/><circle cx="175.3" cy="305.6" r="1.65"/><circle cx="175.4" cy="303.9" r="1.65"/><circle cx="175.8" cy="301.0" r="1.65"/><circle cx="175.8" cy="303.1" r="1.65"/><circle cx="176.1" cy="302.7" r="1.65"/><circle cx="176.4" cy="306.3" r="1.65"/><circle cx="176.6" cy="302.7" r="1.65"/><circle cx="176.6" cy="300.6" r="1.65"/><circle cx="177.0" cy="310.2" r="1.65"/><circle cx="177.4" cy="307.2" r="1.65"/><circle cx="177.4" cy="299.5" r="1.65"/><circle cx="177.6" cy="294.8" r="1.65"/><circle cx="178.0" cy="298.1" r="1.65"/><circle cx="178.2" cy="316.2" r="1.65"/><circle cx="178.4" cy="301.2" r="1.65"/><circle cx="178.4" cy="297.2" r="1.65"/><circle cx="178.7" cy="304.0" r="1.65"/><circle cx="179.0" cy="303.2" r="1.65"/><circle cx="179.3" cy="306.9" r="1.65"/><circle cx="179.2" cy="304.7" r="1.65"/><circle cx="179.7" cy="308.0" r="1.65"/><circle cx="179.7" cy="306.8" r="1.65"/><circle cx="180.0" cy="305.1" r="1.65"/><circle cx="180.2" cy="298.0" r="1.65"/><circle cx="180.2" cy="296.8" r="1.65"/><circle cx="180.6" cy="301.3" r="1.65"/><circle cx="180.8" cy="299.2" r="1.65"/><circle cx="181.1" cy="310.6" r="1.65"/><circle cx="181.3" cy="294.5" r="1.65"/><circle cx="181.3" cy="308.0" r="1.65"/><circle cx="181.7" cy="296.4" r="1.65"/><circle cx="181.8" cy="303.2" r="1.65"/><circle cx="182.3" cy="306.1" r="1.65"/><circle cx="182.1" cy="293.6" r="1.65"/><circle cx="182.5" cy="308.3" r="1.65"/><circle cx="182.6" cy="299.9" r="1.65"/><circle cx="182.9" cy="306.1" r="1.65"/><circle cx="183.3" cy="296.3" r="1.65"/><circle cx="183.5" cy="310.2" r="1.65"/><circle cx="183.7" cy="310.5" r="1.65"/><circle cx="183.6" cy="305.2" r="1.65"/><circle cx="184.2" cy="311.6" r="1.65"/><circle cx="184.4" cy="306.4" r="1.65"/><circle cx="184.4" cy="307.3" r="1.65"/><circle cx="184.7" cy="308.6" r="1.65"/><circle cx="185.0" cy="300.0" r="1.65"/><circle cx="185.0" cy="303.6" r="1.65"/><circle cx="185.1" cy="297.3" r="1.65"/><circle cx="185.6" cy="306.2" r="1.65"/><circle cx="185.9" cy="304.7" r="1.65"/><circle cx="185.9" cy="303.5" r="1.65"/><circle cx="186.3" cy="308.6" r="1.65"/><circle cx="186.3" cy="304.4" r="1.65"/><circle cx="186.7" cy="297.2" r="1.65"/><circle cx="186.7" cy="310.2" r="1.65"/><circle cx="187.1" cy="299.1" r="1.65"/><circle cx="187.2" cy="305.2" r="1.65"/><circle cx="187.5" cy="303.7" r="1.65"/><circle cx="187.7" cy="298.9" r="1.65"/><circle cx="187.9" cy="303.8" r="1.65"/><circle cx="188.0" cy="320.3" r="1.65"/><circle cx="188.3" cy="299.4" r="1.65"/><circle cx="188.5" cy="300.0" r="1.65"/><circle cx="188.5" cy="288.2" r="1.65"/><circle cx="189.0" cy="298.0" r="1.65"/><circle cx="189.1" cy="303.5" r="1.65"/><circle cx="189.3" cy="307.1" r="1.65"/><circle cx="189.7" cy="294.9" r="1.65"/><circle cx="189.6" cy="306.4" r="1.65"/><circle cx="189.8" cy="306.5" r="1.65"/><circle cx="190.3" cy="305.2" r="1.65"/><circle cx="190.3" cy="303.2" r="1.65"/><circle cx="190.5" cy="309.1" r="1.65"/><circle cx="190.7" cy="295.9" r="1.65"/><circle cx="191.2" cy="301.7" r="1.65"/><circle cx="191.3" cy="311.2" r="1.65"/><circle cx="191.6" cy="301.8" r="1.65"/><circle cx="191.6" cy="291.7" r="1.65"/><circle cx="192.1" cy="312.9" r="1.65"/><circle cx="192.0" cy="297.6" r="1.65"/><circle cx="192.4" cy="292.1" r="1.65"/><circle cx="192.4" cy="299.9" r="1.65"/><circle cx="192.6" cy="304.5" r="1.65"/><circle cx="192.8" cy="304.9" r="1.65"/><circle cx="193.0" cy="295.7" r="1.65"/><circle cx="193.2" cy="299.0" r="1.65"/><circle cx="193.7" cy="308.4" r="1.65"/><circle cx="193.6" cy="301.0" r="1.65"/><circle cx="193.9" cy="299.6" r="1.65"/><circle cx="194.4" cy="295.8" r="1.65"/><circle cx="194.3" cy="289.2" r="1.65"/><circle cx="194.5" cy="302.7" r="1.65"/><circle cx="194.8" cy="308.4" r="1.65"/><circle cx="194.9" cy="306.2" r="1.65"/><circle cx="195.4" cy="304.2" r="1.65"/><circle cx="195.4" cy="297.7" r="1.65"/><circle cx="195.8" cy="302.0" r="1.65"/><circle cx="195.9" cy="295.5" r="1.65"/><circle cx="196.0" cy="298.1" r="1.65"/><circle cx="196.4" cy="299.6" r="1.65"/><circle cx="196.7" cy="297.6" r="1.65"/><circle cx="196.7" cy="311.7" r="1.65"/><circle cx="196.9" cy="301.9" r="1.65"/><circle cx="197.1" cy="298.9" r="1.65"/><circle cx="197.3" cy="308.2" r="1.65"/><circle cx="197.7" cy="294.7" r="1.65"/><circle cx="197.7" cy="303.2" r="1.65"/><circle cx="198.0" cy="298.0" r="1.65"/><circle cx="198.3" cy="306.5" r="1.65"/><circle cx="198.5" cy="308.2" r="1.65"/><circle cx="198.8" cy="303.4" r="1.65"/><circle cx="198.9" cy="301.8" r="1.65"/><circle cx="199.2" cy="302.3" r="1.65"/><circle cx="199.2" cy="290.6" r="1.65"/><circle cx="199.7" cy="309.3" r="1.65"/><circle cx="199.7" cy="301.0" r="1.65"/><circle cx="200.1" cy="307.6" r="1.65"/><circle cx="200.3" cy="308.4" r="1.65"/><circle cx="200.2" cy="300.4" r="1.65"/><circle cx="200.7" cy="305.4" r="1.65"/><circle cx="200.9" cy="296.0" r="1.65"/><circle cx="201.0" cy="304.9" r="1.65"/><circle cx="201.1" cy="301.5" r="1.65"/><circle cx="201.3" cy="312.3" r="1.65"/><circle cx="201.6" cy="304.2" r="1.65"/><circle cx="201.9" cy="291.6" r="1.65"/><circle cx="202.2" cy="293.9" r="1.65"/><circle cx="202.3" cy="295.7" r="1.65"/><circle cx="202.4" cy="315.0" r="1.65"/><circle cx="202.6" cy="300.4" r="1.65"/><circle cx="202.8" cy="294.7" r="1.65"/><circle cx="203.0" cy="297.5" r="1.65"/><circle cx="203.5" cy="303.2" r="1.65"/><circle cx="203.6" cy="298.7" r="1.65"/><circle cx="203.7" cy="299.2" r="1.65"/><circle cx="204.1" cy="303.8" r="1.65"/><circle cx="204.1" cy="313.8" r="1.65"/><circle cx="204.5" cy="300.3" r="1.65"/><circle cx="204.7" cy="307.9" r="1.65"/><circle cx="205.0" cy="315.0" r="1.65"/><circle cx="204.9" cy="312.4" r="1.65"/><circle cx="205.3" cy="308.3" r="1.65"/><circle cx="205.3" cy="295.2" r="1.65"/><circle cx="205.8" cy="307.1" r="1.65"/><circle cx="205.9" cy="311.8" r="1.65"/><circle cx="206.0" cy="299.3" r="1.65"/><circle cx="206.5" cy="307.0" r="1.65"/><circle cx="206.4" cy="302.7" r="1.65"/><circle cx="206.9" cy="304.0" r="1.65"/><circle cx="207.0" cy="309.8" r="1.65"/><circle cx="207.2" cy="304.2" r="1.65"/><circle cx="207.3" cy="313.4" r="1.65"/><circle cx="207.6" cy="297.3" r="1.65"/><circle cx="207.8" cy="301.2" r="1.65"/><circle cx="208.2" cy="306.0" r="1.65"/><circle cx="208.1" cy="305.6" r="1.65"/><circle cx="208.5" cy="311.0" r="1.65"/><circle cx="208.6" cy="305.6" r="1.65"/><circle cx="208.8" cy="293.1" r="1.65"/><circle cx="209.2" cy="309.6" r="1.65"/><circle cx="209.3" cy="297.8" r="1.65"/><circle cx="209.4" cy="306.0" r="1.65"/><circle cx="209.9" cy="308.5" r="1.65"/><circle cx="209.9" cy="300.9" r="1.65"/><circle cx="210.2" cy="303.1" r="1.65"/><circle cx="210.2" cy="298.9" r="1.65"/><circle cx="210.7" cy="302.3" r="1.65"/><circle cx="210.7" cy="306.6" r="1.65"/><circle cx="211.2" cy="304.2" r="1.65"/><circle cx="211.3" cy="301.3" r="1.65"/><circle cx="211.3" cy="306.9" r="1.65"/><circle cx="211.7" cy="297.8" r="1.65"/><circle cx="211.8" cy="298.6" r="1.65"/><circle cx="212.1" cy="309.0" r="1.65"/><circle cx="212.4" cy="309.7" r="1.65"/><circle cx="212.6" cy="294.9" r="1.65"/><circle cx="212.9" cy="299.5" r="1.65"/><circle cx="212.8" cy="305.4" r="1.65"/><circle cx="213.3" cy="306.9" r="1.65"/><circle cx="213.3" cy="307.8" r="1.65"/><circle cx="213.4" cy="310.4" r="1.65"/><circle cx="213.8" cy="296.6" r="1.65"/><circle cx="213.9" cy="294.6" r="1.65"/><circle cx="214.3" cy="308.9" r="1.65"/><circle cx="214.3" cy="303.9" r="1.65"/><circle cx="214.5" cy="303.7" r="1.65"/><circle cx="214.8" cy="293.4" r="1.65"/><circle cx="215.0" cy="303.1" r="1.65"/><circle cx="215.2" cy="309.6" r="1.65"/><circle cx="215.3" cy="291.0" r="1.65"/><circle cx="215.7" cy="298.6" r="1.65"/><circle cx="215.9" cy="299.9" r="1.65"/><circle cx="216.3" cy="302.5" r="1.65"/><circle cx="216.3" cy="302.6" r="1.65"/><circle cx="216.6" cy="296.5" r="1.65"/><circle cx="216.6" cy="306.3" r="1.65"/><circle cx="217.1" cy="307.5" r="1.65"/><circle cx="217.1" cy="310.0" r="1.65"/><circle cx="217.5" cy="315.4" r="1.65"/><circle cx="217.6" cy="293.9" r="1.65"/><circle cx="217.8" cy="307.8" r="1.65"/><circle cx="218.2" cy="301.6" r="1.65"/><circle cx="218.2" cy="302.9" r="1.65"/><circle cx="218.6" cy="300.9" r="1.65"/><circle cx="218.6" cy="301.7" r="1.65"/><circle cx="218.8" cy="301.6" r="1.65"/><circle cx="219.0" cy="311.2" r="1.65"/><circle cx="219.2" cy="307.4" r="1.65"/><circle cx="219.6" cy="312.3" r="1.65"/><circle cx="219.7" cy="298.3" r="1.65"/><circle cx="219.8" cy="306.5" r="1.65"/><circle cx="220.1" cy="299.5" r="1.65"/><circle cx="220.5" cy="301.2" r="1.65"/><circle cx="220.8" cy="306.8" r="1.65"/><circle cx="221.0" cy="305.1" r="1.65"/><circle cx="221.0" cy="300.8" r="1.65"/><circle cx="221.1" cy="309.7" r="1.65"/><circle cx="221.4" cy="294.7" r="1.65"/><circle cx="221.6" cy="308.6" r="1.65"/><circle cx="221.9" cy="301.2" r="1.65"/><circle cx="221.9" cy="306.3" r="1.65"/><circle cx="222.1" cy="307.1" r="1.65"/><circle cx="222.4" cy="310.0" r="1.65"/><circle cx="222.6" cy="300.8" r="1.65"/><circle cx="223.0" cy="309.5" r="1.65"/><circle cx="223.1" cy="306.6" r="1.65"/><circle cx="223.5" cy="308.3" r="1.65"/><circle cx="223.8" cy="308.8" r="1.65"/><circle cx="224.0" cy="302.2" r="1.65"/><circle cx="224.1" cy="303.0" r="1.65"/><circle cx="224.1" cy="309.3" r="1.65"/><circle cx="224.3" cy="306.2" r="1.65"/><circle cx="224.5" cy="301.0" r="1.65"/><circle cx="224.7" cy="305.7" r="1.65"/><circle cx="224.9" cy="317.3" r="1.65"/><circle cx="225.3" cy="308.1" r="1.65"/><circle cx="225.5" cy="307.8" r="1.65"/><circle cx="225.8" cy="291.9" r="1.65"/><circle cx="226.1" cy="300.1" r="1.65"/><circle cx="226.3" cy="300.7" r="1.65"/><circle cx="226.2" cy="306.5" r="1.65"/><circle cx="226.4" cy="297.1" r="1.65"/><circle cx="227.0" cy="312.3" r="1.65"/><circle cx="227.1" cy="295.9" r="1.65"/><circle cx="227.3" cy="307.1" r="1.65"/><circle cx="227.6" cy="298.3" r="1.65"/><circle cx="227.6" cy="295.8" r="1.65"/><circle cx="228.0" cy="309.6" r="1.65"/><circle cx="227.9" cy="295.5" r="1.65"/><circle cx="228.1" cy="318.5" r="1.65"/><circle cx="228.6" cy="293.0" r="1.65"/><circle cx="228.6" cy="295.6" r="1.65"/><circle cx="229.1" cy="306.0" r="1.65"/><circle cx="228.9" cy="315.9" r="1.65"/><circle cx="229.1" cy="292.9" r="1.65"/><circle cx="229.4" cy="303.7" r="1.65"/><circle cx="229.9" cy="301.3" r="1.65"/><circle cx="229.9" cy="298.8" r="1.65"/><circle cx="230.3" cy="295.3" r="1.65"/><circle cx="230.4" cy="303.6" r="1.65"/><circle cx="230.8" cy="306.4" r="1.65"/><circle cx="230.7" cy="310.2" r="1.65"/><circle cx="231.0" cy="301.3" r="1.65"/><circle cx="231.0" cy="299.4" r="1.65"/><circle cx="231.5" cy="311.8" r="1.65"/><circle cx="231.8" cy="319.7" r="1.65"/><circle cx="232.1" cy="300.5" r="1.65"/><circle cx="231.9" cy="299.7" r="1.65"/><circle cx="232.5" cy="303.6" r="1.65"/><circle cx="232.4" cy="295.3" r="1.65"/><circle cx="232.8" cy="300.7" r="1.65"/><circle cx="232.9" cy="304.7" r="1.65"/><circle cx="233.3" cy="309.7" r="1.65"/><circle cx="233.4" cy="303.5" r="1.65"/><circle cx="233.6" cy="314.4" r="1.65"/><circle cx="233.7" cy="309.5" r="1.65"/><circle cx="233.9" cy="305.0" r="1.65"/><circle cx="234.3" cy="309.1" r="1.65"/><circle cx="234.5" cy="290.4" r="1.65"/><circle cx="234.5" cy="304.6" r="1.65"/><circle cx="234.9" cy="306.9" r="1.65"/><circle cx="235.2" cy="307.7" r="1.65"/><circle cx="235.4" cy="301.5" r="1.65"/><circle cx="235.6" cy="304.9" r="1.65"/><circle cx="235.6" cy="306.4" r="1.65"/><circle cx="235.9" cy="300.2" r="1.65"/><circle cx="236.3" cy="302.8" r="1.65"/><circle cx="236.5" cy="309.8" r="1.65"/><circle cx="236.5" cy="307.1" r="1.65"/><circle cx="236.7" cy="304.2" r="1.65"/><circle cx="237.0" cy="302.8" r="1.65"/><circle cx="237.1" cy="302.3" r="1.65"/><circle cx="237.2" cy="299.6" r="1.65"/><circle cx="237.6" cy="312.7" r="1.65"/><circle cx="237.7" cy="311.7" r="1.65"/><circle cx="238.0" cy="301.6" r="1.65"/><circle cx="238.2" cy="298.8" r="1.65"/><circle cx="238.3" cy="298.3" r="1.65"/><circle cx="238.8" cy="305.3" r="1.65"/><circle cx="238.8" cy="301.6" r="1.65"/><circle cx="239.2" cy="304.8" r="1.65"/><circle cx="239.3" cy="302.3" r="1.65"/><circle cx="239.7" cy="308.9" r="1.65"/><circle cx="239.9" cy="301.0" r="1.65"/><circle cx="239.8" cy="312.4" r="1.65"/><circle cx="240.3" cy="310.6" r="1.65"/><circle cx="240.5" cy="300.7" r="1.65"/><circle cx="240.6" cy="302.1" r="1.65"/><circle cx="240.8" cy="300.5" r="1.65"/><circle cx="241.1" cy="300.5" r="1.65"/><circle cx="241.1" cy="303.8" r="1.65"/><circle cx="241.6" cy="297.3" r="1.65"/><circle cx="241.6" cy="298.9" r="1.65"/><circle cx="241.8" cy="309.6" r="1.65"/><circle cx="242.2" cy="302.0" r="1.65"/><circle cx="242.1" cy="307.3" r="1.65"/><circle cx="242.5" cy="305.0" r="1.65"/><circle cx="242.6" cy="306.5" r="1.65"/><circle cx="242.9" cy="307.4" r="1.65"/><circle cx="243.1" cy="304.9" r="1.65"/><circle cx="243.5" cy="292.9" r="1.65"/><circle cx="243.8" cy="311.3" r="1.65"/><circle cx="243.8" cy="299.4" r="1.65"/><circle cx="243.8" cy="305.1" r="1.65"/><circle cx="244.2" cy="305.8" r="1.65"/><circle cx="244.5" cy="310.4" r="1.65"/><circle cx="244.5" cy="299.6" r="1.65"/><circle cx="244.7" cy="305.7" r="1.65"/><circle cx="245.1" cy="318.2" r="1.65"/><circle cx="245.1" cy="290.5" r="1.65"/><circle cx="245.6" cy="300.4" r="1.65"/><circle cx="245.6" cy="299.4" r="1.65"/><circle cx="245.8" cy="305.0" r="1.65"/><circle cx="246.3" cy="306.6" r="1.65"/><circle cx="246.4" cy="302.7" r="1.65"/><circle cx="246.5" cy="296.2" r="1.65"/><circle cx="246.6" cy="310.1" r="1.65"/><circle cx="247.2" cy="306.4" r="1.65"/><circle cx="247.1" cy="306.5" r="1.65"/><circle cx="247.2" cy="310.8" r="1.65"/><circle cx="247.6" cy="302.6" r="1.65"/><circle cx="248.0" cy="302.0" r="1.65"/><circle cx="247.9" cy="307.3" r="1.65"/><circle cx="248.4" cy="313.0" r="1.65"/><circle cx="248.5" cy="305.4" r="1.65"/><circle cx="248.8" cy="293.8" r="1.65"/><circle cx="248.7" cy="301.6" r="1.65"/><circle cx="249.1" cy="307.2" r="1.65"/><circle cx="249.4" cy="302.3" r="1.65"/><circle cx="249.5" cy="298.0" r="1.65"/><circle cx="249.9" cy="306.9" r="1.65"/><circle cx="250.0" cy="293.7" r="1.65"/><circle cx="250.0" cy="301.7" r="1.65"/><circle cx="250.4" cy="303.7" r="1.65"/><circle cx="250.5" cy="297.5" r="1.65"/><circle cx="250.7" cy="298.1" r="1.65"/><circle cx="251.2" cy="291.7" r="1.65"/><circle cx="251.4" cy="302.6" r="1.65"/><circle cx="251.6" cy="307.9" r="1.65"/><circle cx="251.6" cy="300.1" r="1.65"/><circle cx="251.7" cy="304.6" r="1.65"/><circle cx="252.2" cy="306.1" r="1.65"/><circle cx="252.3" cy="306.2" r="1.65"/><circle cx="252.6" cy="304.3" r="1.65"/><circle cx="252.7" cy="309.2" r="1.65"/><circle cx="252.9" cy="304.6" r="1.65"/><circle cx="253.2" cy="302.8" r="1.65"/><circle cx="253.2" cy="307.4" r="1.65"/><circle cx="253.8" cy="300.2" r="1.65"/><circle cx="253.8" cy="304.5" r="1.65"/><circle cx="254.1" cy="317.3" r="1.65"/><circle cx="254.3" cy="296.4" r="1.65"/><circle cx="254.3" cy="299.2" r="1.65"/><circle cx="254.5" cy="306.4" r="1.65"/><circle cx="255.0" cy="317.0" r="1.65"/><circle cx="255.0" cy="314.0" r="1.65"/><circle cx="255.2" cy="314.0" r="1.65"/><circle cx="255.3" cy="306.5" r="1.65"/><circle cx="255.8" cy="306.8" r="1.65"/><circle cx="255.8" cy="300.9" r="1.65"/><circle cx="256.2" cy="304.3" r="1.65"/><circle cx="256.4" cy="298.4" r="1.65"/><circle cx="256.4" cy="309.0" r="1.65"/><circle cx="256.8" cy="314.4" r="1.65"/><circle cx="257.0" cy="314.3" r="1.65"/><circle cx="257.2" cy="305.0" r="1.65"/><circle cx="257.3" cy="309.4" r="1.65"/><circle cx="257.5" cy="296.3" r="1.65"/><circle cx="257.8" cy="303.1" r="1.65"/><circle cx="258.1" cy="314.8" r="1.65"/><circle cx="258.2" cy="302.9" r="1.65"/><circle cx="258.6" cy="307.4" r="1.65"/><circle cx="258.7" cy="314.0" r="1.65"/><circle cx="258.8" cy="308.1" r="1.65"/><circle cx="258.9" cy="309.3" r="1.65"/><circle cx="259.4" cy="293.7" r="1.65"/><circle cx="259.6" cy="301.0" r="1.65"/><circle cx="259.9" cy="312.1" r="1.65"/><circle cx="260.0" cy="312.3" r="1.65"/><circle cx="260.2" cy="301.9" r="1.65"/><circle cx="260.5" cy="311.4" r="1.65"/><circle cx="260.8" cy="311.2" r="1.65"/><circle cx="260.8" cy="303.7" r="1.65"/><circle cx="261.1" cy="304.6" r="1.65"/><circle cx="261.1" cy="309.5" r="1.65"/><circle cx="261.5" cy="311.7" r="1.65"/><circle cx="261.8" cy="309.2" r="1.65"/><circle cx="261.8" cy="312.3" r="1.65"/><circle cx="262.2" cy="310.5" r="1.65"/><circle cx="262.5" cy="317.3" r="1.65"/><circle cx="262.4" cy="317.9" r="1.65"/><circle cx="262.7" cy="314.5" r="1.65"/><circle cx="262.8" cy="304.6" r="1.65"/><circle cx="263.0" cy="313.7" r="1.65"/><circle cx="263.6" cy="305.2" r="1.65"/><circle cx="263.5" cy="306.4" r="1.65"/><circle cx="263.7" cy="305.7" r="1.65"/><circle cx="263.9" cy="308.1" r="1.65"/><circle cx="264.4" cy="300.2" r="1.65"/><circle cx="264.3" cy="319.6" r="1.65"/><circle cx="264.7" cy="318.9" r="1.65"/><circle cx="265.0" cy="317.5" r="1.65"/><circle cx="265.0" cy="314.3" r="1.65"/><circle cx="265.3" cy="315.5" r="1.65"/><circle cx="265.4" cy="304.1" r="1.65"/><circle cx="265.8" cy="312.0" r="1.65"/><circle cx="265.8" cy="310.2" r="1.65"/><circle cx="266.2" cy="326.9" r="1.65"/><circle cx="266.4" cy="321.6" r="1.65"/><circle cx="266.5" cy="312.5" r="1.65"/><circle cx="266.8" cy="307.6" r="1.65"/><circle cx="266.9" cy="327.8" r="1.65"/><circle cx="267.3" cy="316.4" r="1.65"/><circle cx="267.4" cy="325.1" r="1.65"/><circle cx="267.8" cy="310.1" r="1.65"/><circle cx="267.8" cy="314.3" r="1.65"/><circle cx="268.2" cy="327.5" r="1.65"/><circle cx="268.3" cy="330.0" r="1.65"/><circle cx="268.3" cy="329.0" r="1.65"/><circle cx="268.6" cy="328.7" r="1.65"/><circle cx="269.1" cy="321.8" r="1.65"/><circle cx="268.9" cy="328.9" r="1.65"/><circle cx="269.4" cy="329.0" r="1.65"/><circle cx="269.5" cy="323.4" r="1.65"/><circle cx="269.9" cy="329.8" r="1.65"/><circle cx="269.9" cy="325.7" r="1.65"/><circle cx="270.3" cy="323.6" r="1.65"/><circle cx="270.4" cy="321.3" r="1.65"/><circle cx="270.6" cy="328.9" r="1.65"/><circle cx="270.9" cy="330.5" r="1.65"/><circle cx="271.1" cy="334.2" r="1.65"/><circle cx="271.4" cy="324.7" r="1.65"/><circle cx="271.3" cy="334.7" r="1.65"/><circle cx="271.7" cy="334.4" r="1.65"/><circle cx="271.8" cy="339.8" r="1.65"/><circle cx="272.2" cy="334.7" r="1.65"/><circle cx="272.4" cy="337.8" r="1.65"/><circle cx="272.6" cy="335.5" r="1.65"/><circle cx="272.9" cy="340.1" r="1.65"/><circle cx="272.8" cy="345.5" r="1.65"/><circle cx="273.2" cy="340.1" r="1.65"/><circle cx="273.4" cy="338.2" r="1.65"/><circle cx="273.5" cy="342.2" r="1.65"/><circle cx="273.8" cy="337.1" r="1.65"/><circle cx="274.1" cy="341.7" r="1.65"/><circle cx="274.3" cy="340.2" r="1.65"/><circle cx="274.3" cy="340.5" r="1.65"/><circle cx="274.5" cy="342.3" r="1.65"/><circle cx="275.0" cy="338.9" r="1.65"/><circle cx="275.0" cy="339.6" r="1.65"/><circle cx="275.1" cy="344.8" r="1.65"/><circle cx="275.3" cy="332.5" r="1.65"/><circle cx="275.5" cy="342.4" r="1.65"/><circle cx="275.9" cy="338.7" r="1.65"/><circle cx="276.2" cy="340.6" r="1.65"/><circle cx="276.3" cy="330.9" r="1.65"/><circle cx="276.4" cy="329.6" r="1.65"/><circle cx="276.9" cy="330.6" r="1.65"/><circle cx="276.8" cy="330.6" r="1.65"/><circle cx="277.3" cy="329.5" r="1.65"/><circle cx="277.4" cy="323.1" r="1.65"/><circle cx="277.4" cy="321.0" r="1.65"/><circle cx="277.8" cy="314.5" r="1.65"/><circle cx="278.1" cy="335.4" r="1.65"/><circle cx="278.4" cy="325.7" r="1.65"/><circle cx="278.6" cy="325.1" r="1.65"/><circle cx="278.7" cy="317.7" r="1.65"/><circle cx="278.7" cy="325.8" r="1.65"/><circle cx="279.2" cy="325.5" r="1.65"/><circle cx="279.3" cy="314.2" r="1.65"/><circle cx="279.7" cy="316.4" r="1.65"/><circle cx="279.9" cy="321.0" r="1.65"/><circle cx="280.1" cy="320.6" r="1.65"/><circle cx="280.1" cy="319.0" r="1.65"/><circle cx="280.2" cy="318.8" r="1.65"/><circle cx="280.5" cy="326.9" r="1.65"/><circle cx="280.7" cy="320.9" r="1.65"/><circle cx="280.9" cy="318.4" r="1.65"/><circle cx="281.1" cy="327.1" r="1.65"/><circle cx="281.3" cy="313.0" r="1.65"/><circle cx="281.5" cy="325.0" r="1.65"/><circle cx="281.9" cy="314.1" r="1.65"/><circle cx="282.1" cy="315.6" r="1.65"/><circle cx="282.4" cy="324.1" r="1.65"/><circle cx="282.3" cy="319.4" r="1.65"/><circle cx="282.9" cy="323.2" r="1.65"/><circle cx="283.0" cy="301.1" r="1.65"/><circle cx="283.1" cy="308.0" r="1.65"/><circle cx="283.4" cy="308.9" r="1.65"/><circle cx="283.8" cy="315.8" r="1.65"/><circle cx="283.8" cy="316.1" r="1.65"/><circle cx="284.2" cy="310.7" r="1.65"/><circle cx="284.4" cy="302.3" r="1.65"/><circle cx="284.6" cy="317.3" r="1.65"/><circle cx="284.7" cy="302.9" r="1.65"/><circle cx="284.9" cy="310.7" r="1.65"/><circle cx="285.2" cy="312.9" r="1.65"/><circle cx="285.2" cy="323.4" r="1.65"/><circle cx="285.4" cy="296.9" r="1.65"/><circle cx="285.7" cy="325.9" r="1.65"/><circle cx="286.0" cy="316.8" r="1.65"/><circle cx="286.2" cy="303.9" r="1.65"/><circle cx="286.4" cy="303.8" r="1.65"/><circle cx="286.6" cy="312.6" r="1.65"/><circle cx="286.6" cy="305.7" r="1.65"/><circle cx="287.0" cy="305.1" r="1.65"/><circle cx="287.3" cy="309.1" r="1.65"/><circle cx="287.4" cy="304.8" r="1.65"/><circle cx="287.5" cy="312.9" r="1.65"/><circle cx="287.6" cy="309.1" r="1.65"/><circle cx="288.2" cy="310.4" r="1.65"/><circle cx="288.1" cy="310.7" r="1.65"/><circle cx="288.5" cy="308.4" r="1.65"/><circle cx="288.5" cy="309.4" r="1.65"/><circle cx="288.9" cy="306.8" r="1.65"/><circle cx="289.3" cy="303.9" r="1.65"/><circle cx="289.4" cy="294.8" r="1.65"/><circle cx="289.5" cy="297.8" r="1.65"/><circle cx="289.9" cy="306.1" r="1.65"/><circle cx="289.9" cy="299.9" r="1.65"/><circle cx="290.1" cy="301.5" r="1.65"/><circle cx="290.2" cy="310.6" r="1.65"/><circle cx="290.4" cy="315.0" r="1.65"/><circle cx="290.9" cy="304.1" r="1.65"/><circle cx="290.9" cy="303.4" r="1.65"/><circle cx="291.1" cy="298.6" r="1.65"/><circle cx="291.5" cy="299.8" r="1.65"/><circle cx="291.7" cy="303.0" r="1.65"/><circle cx="291.7" cy="316.0" r="1.65"/><circle cx="292.0" cy="307.3" r="1.65"/><circle cx="292.2" cy="307.8" r="1.65"/><circle cx="292.3" cy="307.7" r="1.65"/><circle cx="292.8" cy="303.1" r="1.65"/><circle cx="292.9" cy="302.2" r="1.65"/><circle cx="293.2" cy="303.7" r="1.65"/><circle cx="293.4" cy="303.4" r="1.65"/><circle cx="293.6" cy="297.3" r="1.65"/><circle cx="293.9" cy="295.8" r="1.65"/><circle cx="293.9" cy="308.8" r="1.65"/><circle cx="294.1" cy="296.2" r="1.65"/><circle cx="294.3" cy="302.6" r="1.65"/><circle cx="294.8" cy="294.8" r="1.65"/><circle cx="295.0" cy="298.9" r="1.65"/><circle cx="295.3" cy="297.3" r="1.65"/><circle cx="295.2" cy="303.2" r="1.65"/><circle cx="295.5" cy="307.6" r="1.65"/><circle cx="295.7" cy="288.8" r="1.65"/><circle cx="295.9" cy="296.5" r="1.65"/><circle cx="296.2" cy="294.3" r="1.65"/><circle cx="296.4" cy="297.3" r="1.65"/><circle cx="296.7" cy="300.5" r="1.65"/><circle cx="296.8" cy="301.3" r="1.65"/><circle cx="296.9" cy="305.3" r="1.65"/><circle cx="297.4" cy="307.3" r="1.65"/><circle cx="297.3" cy="314.1" r="1.65"/><circle cx="297.8" cy="306.1" r="1.65"/><circle cx="297.8" cy="303.2" r="1.65"/><circle cx="298.1" cy="306.4" r="1.65"/><circle cx="298.3" cy="312.8" r="1.65"/><circle cx="298.5" cy="300.8" r="1.65"/><circle cx="298.6" cy="316.1" r="1.65"/><circle cx="298.8" cy="297.8" r="1.65"/><circle cx="299.1" cy="308.1" r="1.65"/><circle cx="299.4" cy="305.1" r="1.65"/><circle cx="299.7" cy="308.6" r="1.65"/><circle cx="299.8" cy="303.3" r="1.65"/><circle cx="300.1" cy="306.8" r="1.65"/><circle cx="300.1" cy="297.3" r="1.65"/><circle cx="300.3" cy="295.4" r="1.65"/><circle cx="300.7" cy="309.4" r="1.65"/><circle cx="300.7" cy="300.6" r="1.65"/><circle cx="301.0" cy="303.0" r="1.65"/><circle cx="301.3" cy="299.9" r="1.65"/><circle cx="301.3" cy="296.2" r="1.65"/><circle cx="301.5" cy="303.6" r="1.65"/><circle cx="302.0" cy="292.3" r="1.65"/><circle cx="302.3" cy="310.4" r="1.65"/><circle cx="302.2" cy="293.9" r="1.65"/><circle cx="302.7" cy="311.1" r="1.65"/><circle cx="302.7" cy="305.8" r="1.65"/><circle cx="302.7" cy="308.4" r="1.65"/><circle cx="303.0" cy="295.4" r="1.65"/><circle cx="303.2" cy="294.1" r="1.65"/><circle cx="303.4" cy="294.3" r="1.65"/><circle cx="303.8" cy="297.3" r="1.65"/><circle cx="303.8" cy="303.0" r="1.65"/><circle cx="304.3" cy="301.4" r="1.65"/><circle cx="304.4" cy="292.9" r="1.65"/><circle cx="304.7" cy="303.4" r="1.65"/><circle cx="304.8" cy="302.5" r="1.65"/><circle cx="305.2" cy="307.9" r="1.65"/><circle cx="305.4" cy="299.1" r="1.65"/><circle cx="305.3" cy="313.8" r="1.65"/><circle cx="305.6" cy="310.3" r="1.65"/><circle cx="305.8" cy="305.1" r="1.65"/><circle cx="306.2" cy="297.3" r="1.65"/><circle cx="306.3" cy="301.7" r="1.65"/><circle cx="306.7" cy="310.8" r="1.65"/><circle cx="306.7" cy="298.6" r="1.65"/><circle cx="307.1" cy="300.0" r="1.65"/><circle cx="307.1" cy="318.6" r="1.65"/><circle cx="307.5" cy="294.7" r="1.65"/><circle cx="307.5" cy="302.6" r="1.65"/><circle cx="307.7" cy="308.8" r="1.65"/><circle cx="308.0" cy="298.7" r="1.65"/><circle cx="308.1" cy="310.9" r="1.65"/><circle cx="308.4" cy="301.1" r="1.65"/><circle cx="308.7" cy="307.4" r="1.65"/><circle cx="308.9" cy="313.7" r="1.65"/><circle cx="309.0" cy="309.8" r="1.65"/><circle cx="309.1" cy="301.2" r="1.65"/><circle cx="309.5" cy="305.2" r="1.65"/><circle cx="309.9" cy="307.1" r="1.65"/><circle cx="309.9" cy="310.1" r="1.65"/><circle cx="310.1" cy="294.9" r="1.65"/><circle cx="310.2" cy="306.9" r="1.65"/><circle cx="310.5" cy="297.2" r="1.65"/><circle cx="310.8" cy="294.4" r="1.65"/><circle cx="310.9" cy="300.4" r="1.65"/><circle cx="311.4" cy="293.6" r="1.65"/><circle cx="311.4" cy="301.0" r="1.65"/><circle cx="311.5" cy="301.5" r="1.65"/><circle cx="312.0" cy="289.3" r="1.65"/><circle cx="312.1" cy="299.7" r="1.65"/><circle cx="312.2" cy="303.8" r="1.65"/><circle cx="312.4" cy="294.7" r="1.65"/><circle cx="312.8" cy="298.1" r="1.65"/><circle cx="313.1" cy="302.9" r="1.65"/><circle cx="313.3" cy="305.2" r="1.65"/><circle cx="313.3" cy="297.8" r="1.65"/><circle cx="313.7" cy="301.6" r="1.65"/><circle cx="313.9" cy="299.0" r="1.65"/><circle cx="314.2" cy="290.0" r="1.65"/><circle cx="314.1" cy="313.7" r="1.65"/><circle cx="314.3" cy="308.5" r="1.65"/><circle cx="314.6" cy="304.9" r="1.65"/><circle cx="314.7" cy="313.4" r="1.65"/><circle cx="315.1" cy="307.4" r="1.65"/><circle cx="315.3" cy="300.0" r="1.65"/><circle cx="315.6" cy="294.6" r="1.65"/><circle cx="315.6" cy="298.2" r="1.65"/><circle cx="315.8" cy="302.4" r="1.65"/><circle cx="316.0" cy="302.6" r="1.65"/><circle cx="316.5" cy="302.1" r="1.65"/><circle cx="316.6" cy="295.6" r="1.65"/><circle cx="316.9" cy="309.4" r="1.65"/><circle cx="317.1" cy="304.9" r="1.65"/><circle cx="317.4" cy="304.4" r="1.65"/><circle cx="317.4" cy="307.2" r="1.65"/><circle cx="317.8" cy="306.0" r="1.65"/><circle cx="317.9" cy="301.8" r="1.65"/><circle cx="318.2" cy="302.5" r="1.65"/><circle cx="318.4" cy="309.1" r="1.65"/><circle cx="318.7" cy="307.6" r="1.65"/><circle cx="318.9" cy="301.2" r="1.65"/><circle cx="319.0" cy="298.7" r="1.65"/><circle cx="319.2" cy="296.6" r="1.65"/><circle cx="319.4" cy="291.7" r="1.65"/><circle cx="319.6" cy="307.3" r="1.65"/><circle cx="319.9" cy="315.8" r="1.65"/><circle cx="320.1" cy="302.3" r="1.65"/><circle cx="320.4" cy="312.5" r="1.65"/><circle cx="320.5" cy="304.8" r="1.65"/><circle cx="320.5" cy="299.8" r="1.65"/><circle cx="320.7" cy="300.1" r="1.65"/><circle cx="321.1" cy="303.4" r="1.65"/><circle cx="321.1" cy="299.0" r="1.65"/><circle cx="321.5" cy="311.5" r="1.65"/><circle cx="321.8" cy="313.5" r="1.65"/><circle cx="321.7" cy="292.1" r="1.65"/><circle cx="321.9" cy="305.9" r="1.65"/><circle cx="322.3" cy="312.3" r="1.65"/><circle cx="322.6" cy="319.7" r="1.65"/><circle cx="322.7" cy="299.6" r="1.65"/><circle cx="322.8" cy="307.1" r="1.65"/><circle cx="323.2" cy="301.6" r="1.65"/><circle cx="323.6" cy="297.3" r="1.65"/><circle cx="323.5" cy="302.3" r="1.65"/><circle cx="323.6" cy="305.5" r="1.65"/><circle cx="324.0" cy="318.7" r="1.65"/><circle cx="324.2" cy="301.0" r="1.65"/><circle cx="324.2" cy="293.7" r="1.65"/><circle cx="324.7" cy="311.6" r="1.65"/><circle cx="324.8" cy="306.6" r="1.65"/><circle cx="325.3" cy="306.6" r="1.65"/><circle cx="325.4" cy="299.0" r="1.65"/><circle cx="325.7" cy="308.5" r="1.65"/><circle cx="325.6" cy="305.5" r="1.65"/><circle cx="325.9" cy="310.1" r="1.65"/><circle cx="326.3" cy="302.7" r="1.65"/><circle cx="326.4" cy="297.5" r="1.65"/><circle cx="326.6" cy="302.8" r="1.65"/><circle cx="326.7" cy="308.2" r="1.65"/><circle cx="326.9" cy="293.4" r="1.65"/><circle cx="327.3" cy="293.8" r="1.65"/><circle cx="327.5" cy="303.1" r="1.65"/><circle cx="327.5" cy="300.1" r="1.65"/><circle cx="328.0" cy="313.2" r="1.65"/><circle cx="328.2" cy="307.9" r="1.65"/><circle cx="328.4" cy="302.0" r="1.65"/><circle cx="328.6" cy="301.8" r="1.65"/><circle cx="328.5" cy="313.1" r="1.65"/><circle cx="329.0" cy="302.7" r="1.65"/><circle cx="329.2" cy="301.3" r="1.65"/><circle cx="329.5" cy="317.8" r="1.65"/><circle cx="329.4" cy="301.2" r="1.65"/><circle cx="329.6" cy="306.7" r="1.65"/><circle cx="330.1" cy="300.4" r="1.65"/><circle cx="330.0" cy="300.9" r="1.65"/><circle cx="330.4" cy="299.6" r="1.65"/><circle cx="330.6" cy="309.2" r="1.65"/><circle cx="330.8" cy="307.8" r="1.65"/><circle cx="331.1" cy="300.7" r="1.65"/><circle cx="331.2" cy="303.3" r="1.65"/><circle cx="331.5" cy="303.2" r="1.65"/><circle cx="331.9" cy="307.8" r="1.65"/><circle cx="331.8" cy="307.5" r="1.65"/><circle cx="332.2" cy="300.2" r="1.65"/><circle cx="332.4" cy="314.5" r="1.65"/><circle cx="332.6" cy="294.3" r="1.65"/><circle cx="332.6" cy="293.5" r="1.65"/><circle cx="333.0" cy="304.8" r="1.65"/><circle cx="333.3" cy="295.3" r="1.65"/><circle cx="333.2" cy="306.9" r="1.65"/><circle cx="333.4" cy="306.4" r="1.65"/><circle cx="333.7" cy="308.3" r="1.65"/><circle cx="334.0" cy="312.3" r="1.65"/><circle cx="334.1" cy="307.8" r="1.65"/><circle cx="334.6" cy="293.7" r="1.65"/><circle cx="334.8" cy="300.1" r="1.65"/><circle cx="335.0" cy="300.3" r="1.65"/><circle cx="334.9" cy="303.1" r="1.65"/><circle cx="335.3" cy="305.4" r="1.65"/><circle cx="335.5" cy="306.8" r="1.65"/><circle cx="335.7" cy="292.4" r="1.65"/><circle cx="335.7" cy="297.4" r="1.65"/><circle cx="336.2" cy="302.1" r="1.65"/><circle cx="336.2" cy="291.8" r="1.65"/><circle cx="336.6" cy="306.4" r="1.65"/><circle cx="336.8" cy="300.5" r="1.65"/><circle cx="336.9" cy="308.1" r="1.65"/><circle cx="337.3" cy="308.2" r="1.65"/><circle cx="337.4" cy="309.1" r="1.65"/><circle cx="337.7" cy="295.8" r="1.65"/><circle cx="338.0" cy="308.0" r="1.65"/><circle cx="338.1" cy="306.9" r="1.65"/><circle cx="338.1" cy="305.7" r="1.65"/><circle cx="338.4" cy="302.3" r="1.65"/><circle cx="338.6" cy="307.0" r="1.65"/><circle cx="339.1" cy="307.4" r="1.65"/><circle cx="339.1" cy="297.4" r="1.65"/><circle cx="339.2" cy="305.1" r="1.65"/><circle cx="339.6" cy="300.1" r="1.65"/><circle cx="339.9" cy="306.6" r="1.65"/><circle cx="340.0" cy="309.3" r="1.65"/><circle cx="340.4" cy="297.2" r="1.65"/><circle cx="340.2" cy="287.3" r="1.65"/><circle cx="340.5" cy="305.0" r="1.65"/><circle cx="341.0" cy="311.3" r="1.65"/><circle cx="340.8" cy="304.1" r="1.65"/><circle cx="341.2" cy="301.7" r="1.65"/><circle cx="341.6" cy="303.9" r="1.65"/><circle cx="341.6" cy="309.6" r="1.65"/><circle cx="342.1" cy="293.2" r="1.65"/><circle cx="342.0" cy="291.2" r="1.65"/><circle cx="342.1" cy="304.9" r="1.65"/><circle cx="342.6" cy="318.6" r="1.65"/><circle cx="342.8" cy="300.2" r="1.65"/><circle cx="343.0" cy="309.2" r="1.65"/><circle cx="343.2" cy="306.6" r="1.65"/><circle cx="343.2" cy="293.5" r="1.65"/><circle cx="343.7" cy="300.7" r="1.65"/><circle cx="343.8" cy="297.5" r="1.65"/><circle cx="343.8" cy="299.6" r="1.65"/><circle cx="344.1" cy="301.5" r="1.65"/><circle cx="344.4" cy="307.6" r="1.65"/><circle cx="344.5" cy="300.0" r="1.65"/><circle cx="344.9" cy="313.7" r="1.65"/><circle cx="344.9" cy="307.4" r="1.65"/><circle cx="345.3" cy="300.9" r="1.65"/><circle cx="345.7" cy="301.2" r="1.65"/><circle cx="345.6" cy="300.1" r="1.65"/><circle cx="345.8" cy="308.7" r="1.65"/><circle cx="346.2" cy="302.7" r="1.65"/><circle cx="346.4" cy="296.5" r="1.65"/><circle cx="346.7" cy="301.2" r="1.65"/><circle cx="346.8" cy="303.8" r="1.65"/><circle cx="346.8" cy="305.9" r="1.65"/><circle cx="347.0" cy="297.6" r="1.65"/><circle cx="347.3" cy="321.5" r="1.65"/><circle cx="347.7" cy="307.4" r="1.65"/><circle cx="347.9" cy="302.1" r="1.65"/><circle cx="348.1" cy="304.4" r="1.65"/><circle cx="348.3" cy="303.3" r="1.65"/><circle cx="348.6" cy="308.3" r="1.65"/><circle cx="348.5" cy="303.0" r="1.65"/><circle cx="349.1" cy="312.2" r="1.65"/><circle cx="349.0" cy="300.9" r="1.65"/><circle cx="349.4" cy="301.8" r="1.65"/><circle cx="349.6" cy="296.0" r="1.65"/><circle cx="349.6" cy="287.0" r="1.65"/><circle cx="350.0" cy="298.3" r="1.65"/><circle cx="350.0" cy="293.4" r="1.65"/><circle cx="350.2" cy="297.4" r="1.65"/><circle cx="350.5" cy="293.8" r="1.65"/><circle cx="350.9" cy="309.4" r="1.65"/><circle cx="351.1" cy="305.3" r="1.65"/><circle cx="351.2" cy="296.7" r="1.65"/><circle cx="351.3" cy="298.4" r="1.65"/><circle cx="351.6" cy="296.5" r="1.65"/><circle cx="351.8" cy="306.9" r="1.65"/><circle cx="352.1" cy="313.0" r="1.65"/><circle cx="352.3" cy="289.8" r="1.65"/><circle cx="352.6" cy="297.6" r="1.65"/><circle cx="352.7" cy="302.5" r="1.65"/><circle cx="353.0" cy="299.6" r="1.65"/><circle cx="353.3" cy="307.7" r="1.65"/><circle cx="353.5" cy="311.1" r="1.65"/><circle cx="353.4" cy="301.5" r="1.65"/><circle cx="354.0" cy="305.4" r="1.65"/><circle cx="353.9" cy="307.7" r="1.65"/><circle cx="354.2" cy="313.1" r="1.65"/><circle cx="354.6" cy="296.6" r="1.65"/><circle cx="354.6" cy="313.5" r="1.65"/><circle cx="354.7" cy="288.5" r="1.65"/><circle cx="355.0" cy="290.1" r="1.65"/><circle cx="355.2" cy="313.9" r="1.65"/><circle cx="355.7" cy="309.4" r="1.65"/><circle cx="355.6" cy="301.3" r="1.65"/><circle cx="355.7" cy="302.8" r="1.65"/><circle cx="356.2" cy="296.2" r="1.65"/><circle cx="356.4" cy="306.4" r="1.65"/><circle cx="356.7" cy="306.9" r="1.65"/><circle cx="356.8" cy="306.0" r="1.65"/><circle cx="357.0" cy="302.1" r="1.65"/><circle cx="357.1" cy="307.9" r="1.65"/><circle cx="357.6" cy="297.8" r="1.65"/><circle cx="357.8" cy="291.7" r="1.65"/><circle cx="357.7" cy="295.5" r="1.65"/><circle cx="358.2" cy="314.2" r="1.65"/><circle cx="358.2" cy="301.3" r="1.65"/><circle cx="358.6" cy="295.2" r="1.65"/><circle cx="358.5" cy="305.4" r="1.65"/><circle cx="359.1" cy="293.5" r="1.65"/><circle cx="358.9" cy="299.9" r="1.65"/><circle cx="359.3" cy="302.1" r="1.65"/><circle cx="359.6" cy="303.8" r="1.65"/><circle cx="359.8" cy="304.0" r="1.65"/><circle cx="360.1" cy="294.9" r="1.65"/><circle cx="360.2" cy="299.3" r="1.65"/><circle cx="360.3" cy="301.1" r="1.65"/><circle cx="360.5" cy="297.8" r="1.65"/><circle cx="360.8" cy="293.3" r="1.65"/><circle cx="360.9" cy="305.1" r="1.65"/><circle cx="361.2" cy="311.3" r="1.65"/><circle cx="361.6" cy="292.9" r="1.65"/><circle cx="361.6" cy="296.6" r="1.65"/><circle cx="361.9" cy="305.9" r="1.65"/><circle cx="362.2" cy="302.9" r="1.65"/><circle cx="362.2" cy="308.0" r="1.65"/><circle cx="362.4" cy="306.0" r="1.65"/><circle cx="362.8" cy="304.6" r="1.65"/><circle cx="363.0" cy="299.7" r="1.65"/><circle cx="363.0" cy="310.7" r="1.65"/><circle cx="363.5" cy="299.6" r="1.65"/><circle cx="363.7" cy="298.6" r="1.65"/><circle cx="363.6" cy="306.0" r="1.65"/><circle cx="363.9" cy="310.2" r="1.65"/><circle cx="364.2" cy="306.7" r="1.65"/><circle cx="364.6" cy="302.3" r="1.65"/><circle cx="364.5" cy="310.5" r="1.65"/><circle cx="364.8" cy="306.9" r="1.65"/><circle cx="364.9" cy="302.7" r="1.65"/><circle cx="365.5" cy="299.3" r="1.65"/><circle cx="365.5" cy="310.5" r="1.65"/><circle cx="365.8" cy="308.3" r="1.65"/><circle cx="366.1" cy="307.9" r="1.65"/><circle cx="366.0" cy="306.3" r="1.65"/><circle cx="366.3" cy="310.0" r="1.65"/><circle cx="366.7" cy="289.2" r="1.65"/><circle cx="366.7" cy="307.6" r="1.65"/><circle cx="366.9" cy="299.4" r="1.65"/><circle cx="367.3" cy="304.0" r="1.65"/><circle cx="367.3" cy="316.0" r="1.65"/><circle cx="367.6" cy="295.5" r="1.65"/><circle cx="367.8" cy="304.1" r="1.65"/><circle cx="368.1" cy="304.1" r="1.65"/><circle cx="368.2" cy="294.7" r="1.65"/><circle cx="368.5" cy="308.8" r="1.65"/><circle cx="368.8" cy="297.2" r="1.65"/><circle cx="368.9" cy="292.2" r="1.65"/><circle cx="369.0" cy="305.8" r="1.65"/><circle cx="369.5" cy="311.7" r="1.65"/><circle cx="369.4" cy="300.1" r="1.65"/><circle cx="369.6" cy="299.9" r="1.65"/><circle cx="369.8" cy="291.6" r="1.65"/><circle cx="370.2" cy="296.3" r="1.65"/><circle cx="370.5" cy="305.1" r="1.65"/><circle cx="370.4" cy="302.1" r="1.65"/><circle cx="370.7" cy="311.4" r="1.65"/><circle cx="370.9" cy="308.7" r="1.65"/><circle cx="371.2" cy="307.5" r="1.65"/><circle cx="371.3" cy="300.1" r="1.65"/><circle cx="371.8" cy="306.7" r="1.65"/><circle cx="371.7" cy="305.0" r="1.65"/><circle cx="372.0" cy="301.0" r="1.65"/><circle cx="372.4" cy="297.2" r="1.65"/><circle cx="372.3" cy="306.5" r="1.65"/><circle cx="372.8" cy="301.0" r="1.65"/><circle cx="373.1" cy="303.7" r="1.65"/><circle cx="373.1" cy="296.2" r="1.65"/><circle cx="373.4" cy="297.1" r="1.65"/><circle cx="373.6" cy="299.6" r="1.65"/><circle cx="373.8" cy="298.0" r="1.65"/><circle cx="374.0" cy="310.2" r="1.65"/><circle cx="374.1" cy="295.9" r="1.65"/><circle cx="374.2" cy="294.4" r="1.65"/><circle cx="374.6" cy="309.7" r="1.65"/><circle cx="375.0" cy="299.8" r="1.65"/><circle cx="375.1" cy="295.2" r="1.65"/><circle cx="375.3" cy="302.7" r="1.65"/><circle cx="375.4" cy="300.9" r="1.65"/><circle cx="375.8" cy="308.6" r="1.65"/><circle cx="376.1" cy="297.1" r="1.65"/><circle cx="376.0" cy="302.1" r="1.65"/><circle cx="376.2" cy="299.2" r="1.65"/><circle cx="376.5" cy="304.3" r="1.65"/><circle cx="376.7" cy="301.9" r="1.65"/><circle cx="377.1" cy="312.7" r="1.65"/><circle cx="377.2" cy="300.7" r="1.65"/><circle cx="377.5" cy="306.5" r="1.65"/><circle cx="377.6" cy="300.2" r="1.65"/><circle cx="377.9" cy="308.5" r="1.65"/><circle cx="378.2" cy="302.8" r="1.65"/><circle cx="378.1" cy="296.0" r="1.65"/><circle cx="378.6" cy="304.9" r="1.65"/><circle cx="378.7" cy="302.9" r="1.65"/><circle cx="378.7" cy="303.3" r="1.65"/><circle cx="379.0" cy="301.4" r="1.65"/><circle cx="379.2" cy="309.3" r="1.65"/><circle cx="379.4" cy="305.2" r="1.65"/><circle cx="379.9" cy="305.7" r="1.65"/><circle cx="380.0" cy="302.3" r="1.65"/><circle cx="380.1" cy="308.4" r="1.65"/><circle cx="380.3" cy="301.7" r="1.65"/><circle cx="380.7" cy="295.0" r="1.65"/><circle cx="380.8" cy="303.5" r="1.65"/><circle cx="381.0" cy="303.8" r="1.65"/><circle cx="381.4" cy="306.6" r="1.65"/><circle cx="381.6" cy="304.5" r="1.65"/><circle cx="381.7" cy="306.3" r="1.65"/><circle cx="382.0" cy="310.8" r="1.65"/><circle cx="382.0" cy="299.4" r="1.65"/><circle cx="382.4" cy="301.4" r="1.65"/><circle cx="382.6" cy="299.4" r="1.65"/><circle cx="382.7" cy="302.5" r="1.65"/><circle cx="383.0" cy="300.9" r="1.65"/><circle cx="383.2" cy="308.6" r="1.65"/><circle cx="383.5" cy="289.9" r="1.65"/><circle cx="383.5" cy="303.9" r="1.65"/><circle cx="383.9" cy="313.2" r="1.65"/><circle cx="384.0" cy="306.9" r="1.65"/><circle cx="384.4" cy="298.2" r="1.65"/><circle cx="384.3" cy="311.1" r="1.65"/><circle cx="384.5" cy="305.3" r="1.65"/><circle cx="385.0" cy="295.6" r="1.65"/><circle cx="385.0" cy="293.2" r="1.65"/><circle cx="385.2" cy="303.0" r="1.65"/><circle cx="385.3" cy="302.6" r="1.65"/><circle cx="385.5" cy="304.7" r="1.65"/><circle cx="385.9" cy="298.0" r="1.65"/><circle cx="386.1" cy="298.6" r="1.65"/><circle cx="386.5" cy="304.4" r="1.65"/><circle cx="386.6" cy="302.3" r="1.65"/><circle cx="386.8" cy="307.0" r="1.65"/><circle cx="387.1" cy="297.5" r="1.65"/><circle cx="387.2" cy="308.3" r="1.65"/><circle cx="387.3" cy="308.8" r="1.65"/><circle cx="387.6" cy="306.2" r="1.65"/><circle cx="387.9" cy="317.1" r="1.65"/><circle cx="388.0" cy="307.6" r="1.65"/><circle cx="388.3" cy="308.9" r="1.65"/><circle cx="388.6" cy="307.9" r="1.65"/><circle cx="388.6" cy="301.2" r="1.65"/><circle cx="389.0" cy="310.0" r="1.65"/><circle cx="389.0" cy="306.4" r="1.65"/><circle cx="389.3" cy="300.5" r="1.65"/><circle cx="389.7" cy="295.7" r="1.65"/><circle cx="389.7" cy="311.5" r="1.65"/><circle cx="390.0" cy="303.3" r="1.65"/><circle cx="390.1" cy="296.2" r="1.65"/><circle cx="390.2" cy="302.8" r="1.65"/><circle cx="390.8" cy="298.2" r="1.65"/><circle cx="390.6" cy="310.5" r="1.65"/><circle cx="390.9" cy="300.4" r="1.65"/><circle cx="391.2" cy="305.1" r="1.65"/><circle cx="391.5" cy="297.7" r="1.65"/><circle cx="391.9" cy="298.1" r="1.65"/><circle cx="392.0" cy="305.5" r="1.65"/><circle cx="392.3" cy="290.1" r="1.65"/><circle cx="392.2" cy="295.6" r="1.65"/><circle cx="392.5" cy="312.0" r="1.65"/><circle cx="392.8" cy="307.0" r="1.65"/><circle cx="393.0" cy="303.7" r="1.65"/><circle cx="393.2" cy="319.4" r="1.65"/><circle cx="393.6" cy="309.2" r="1.65"/><circle cx="393.4" cy="303.1" r="1.65"/><circle cx="393.9" cy="305.1" r="1.65"/><circle cx="394.1" cy="297.7" r="1.65"/><circle cx="394.3" cy="305.1" r="1.65"/><circle cx="394.3" cy="306.6" r="1.65"/><circle cx="394.8" cy="304.2" r="1.65"/><circle cx="395.0" cy="296.7" r="1.65"/><circle cx="395.3" cy="303.0" r="1.65"/><circle cx="395.3" cy="293.6" r="1.65"/><circle cx="395.4" cy="304.6" r="1.65"/><circle cx="395.7" cy="299.8" r="1.65"/><circle cx="395.8" cy="296.0" r="1.65"/><circle cx="396.3" cy="313.8" r="1.65"/><circle cx="396.5" cy="307.7" r="1.65"/><circle cx="396.7" cy="306.0" r="1.65"/><circle cx="396.7" cy="312.1" r="1.65"/><circle cx="397.1" cy="315.4" r="1.65"/><circle cx="397.1" cy="314.4" r="1.65"/><circle cx="397.6" cy="296.0" r="1.65"/><circle cx="397.7" cy="306.5" r="1.65"/><circle cx="397.8" cy="296.3" r="1.65"/><circle cx="398.0" cy="300.7" r="1.65"/><circle cx="398.2" cy="306.9" r="1.65"/><circle cx="398.6" cy="306.1" r="1.65"/><circle cx="398.6" cy="298.7" r="1.65"/><circle cx="398.9" cy="314.2" r="1.65"/><circle cx="399.2" cy="302.5" r="1.65"/><circle cx="399.4" cy="314.0" r="1.65"/><circle cx="399.5" cy="299.3" r="1.65"/><circle cx="399.7" cy="307.8" r="1.65"/><circle cx="399.9" cy="310.1" r="1.65"/><circle cx="400.2" cy="310.4" r="1.65"/><circle cx="400.2" cy="307.2" r="1.65"/><circle cx="400.6" cy="303.7" r="1.65"/><circle cx="401.0" cy="304.0" r="1.65"/><circle cx="401.1" cy="307.3" r="1.65"/><circle cx="401.2" cy="317.3" r="1.65"/><circle cx="401.4" cy="304.1" r="1.65"/><circle cx="401.7" cy="310.5" r="1.65"/><circle cx="401.9" cy="304.3" r="1.65"/><circle cx="401.9" cy="308.1" r="1.65"/><circle cx="402.4" cy="312.8" r="1.65"/><circle cx="402.5" cy="293.7" r="1.65"/><circle cx="402.6" cy="293.3" r="1.65"/><circle cx="402.9" cy="304.2" r="1.65"/><circle cx="403.2" cy="309.5" r="1.65"/><circle cx="403.4" cy="301.4" r="1.65"/><circle cx="403.6" cy="306.9" r="1.65"/><circle cx="404.0" cy="298.5" r="1.65"/><circle cx="403.9" cy="307.7" r="1.65"/><circle cx="404.4" cy="297.1" r="1.65"/><circle cx="404.3" cy="305.2" r="1.65"/><circle cx="404.5" cy="294.9" r="1.65"/><circle cx="404.9" cy="310.0" r="1.65"/><circle cx="405.2" cy="303.0" r="1.65"/><circle cx="405.2" cy="294.3" r="1.65"/><circle cx="405.4" cy="300.5" r="1.65"/><circle cx="405.8" cy="301.7" r="1.65"/><circle cx="405.8" cy="307.1" r="1.65"/><circle cx="406.1" cy="300.1" r="1.65"/><circle cx="406.4" cy="309.1" r="1.65"/><circle cx="406.4" cy="308.6" r="1.65"/><circle cx="406.8" cy="305.1" r="1.65"/><circle cx="407.1" cy="300.4" r="1.65"/><circle cx="407.3" cy="303.1" r="1.65"/><circle cx="407.5" cy="308.6" r="1.65"/><circle cx="407.7" cy="294.3" r="1.65"/><circle cx="407.8" cy="308.5" r="1.65"/><circle cx="407.9" cy="303.7" r="1.65"/><circle cx="408.2" cy="305.3" r="1.65"/><circle cx="408.6" cy="293.3" r="1.65"/><circle cx="408.6" cy="303.5" r="1.65"/><circle cx="409.0" cy="303.6" r="1.65"/><circle cx="409.2" cy="312.2" r="1.65"/><circle cx="409.4" cy="307.2" r="1.65"/><circle cx="409.5" cy="307.6" r="1.65"/><circle cx="409.8" cy="300.4" r="1.65"/><circle cx="410.1" cy="294.9" r="1.65"/><circle cx="410.2" cy="301.4" r="1.65"/><circle cx="410.3" cy="291.1" r="1.65"/><circle cx="410.5" cy="313.0" r="1.65"/><circle cx="410.8" cy="308.3" r="1.65"/><circle cx="411.2" cy="300.0" r="1.65"/><circle cx="411.1" cy="301.9" r="1.65"/><circle cx="411.3" cy="306.5" r="1.65"/><circle cx="411.6" cy="301.3" r="1.65"/><circle cx="411.9" cy="306.7" r="1.65"/><circle cx="412.3" cy="313.2" r="1.65"/></g>
<path d="M135.7,248.4 L137.4,248.4 L139.2,248.4 L140.9,248.4 L142.6,248.4 L144.3,248.4 L146.1,248.4 L147.8,248.4 L149.5,248.4 L151.2,248.4 L153,248.4 L154.7,248.4 L156.4,248.4 L158.2,248.4 L159.9,248.4 L161.6,248.4 L163.3,248.4 L165.1,248.4 L166.8,248.4 L168.5,248.4 L170.2,248.4 L172,248.4 L173.7,248.4 L175.4,248.4 L177.2,248.4 L178.9,248.4 L180.6,248.4 L182.3,248.4 L184.1,248.4 L185.8,248.4 L187.5,248.4 L189.3,248.4 L191,248.4 L192.7,248.4 L194.4,248.4 L196.2,248.4 L197.9,248.4 L199.6,248.4 L201.3,248.4 L203.1,248.4 L204.8,248.4 L206.5,248.4 L208.3,248.4 L210,248.4 L211.7,248.4 L213.4,248.4 L215.2,248.4 L216.9,248.4 L218.6,248.4 L220.3,248.4 L222.1,248.4 L223.8,248.4 L225.5,248.4 L227.3,248.4 L229,248.4 L230.7,248.4 L232.4,248.4 L234.2,248.4 L235.9,248.4 L237.6,248.4 L239.3,248.4 L241.1,248.4 L241.5,248.4 L241.9,248.4 L242.4,248.4 L242.8,248.4 L243.2,248.4 L243.7,248.4 L244.1,248.4 L244.5,248.4 L245,248.4 L245.4,248.4 L245.8,248.4 L246.3,248.4 L246.7,248.4 L247.1,248.4 L247.6,248.4 L248,248.4 L248.4,248.4 L248.9,248.5 L249.3,248.5 L249.7,248.5 L250.1,248.5 L250.6,248.5 L251,248.5 L251.4,248.5 L251.9,248.6 L252.3,248.6 L252.7,248.6 L253.2,248.6 L253.6,248.7 L254,248.7 L254.5,248.8 L254.9,248.8 L255.3,248.9 L255.8,249 L256.2,249 L256.6,249.1 L257.1,249.2 L257.5,249.4 L257.9,249.5 L258.4,249.7 L258.8,249.8 L259.2,250 L259.6,250.2 L260.1,250.5 L260.5,250.7 L260.9,251.1 L261.4,251.4 L261.8,251.8 L262.2,252.2 L262.7,252.7 L263.1,253.2 L263.5,253.7 L264,254.4 L264.4,255.1 L264.8,255.8 L265.3,256.7 L265.7,257.6 L266.1,258.5 L266.6,259.6 L267,260.8 L267.4,262 L267.9,263.4 L268.3,264.8 L268.7,266.3 L269.1,268 L269.6,269.7 L270,271.5 L270.4,273.3 L270.9,275.3 L271.3,277.2 L271.7,279.2 L272.2,281.2 L272.6,283.1 L273,285 L273.5,286.5 L273.9,287.6 L274.3,286.5 L274.8,285 L275.2,283.1 L275.6,281.2 L276.1,279.2 L276.5,277.2 L276.9,275.3 L277.4,273.3 L277.8,271.5 L278.2,269.7 L278.7,268 L279.1,266.3 L279.5,264.8 L279.9,263.4 L280.4,262 L280.8,260.8 L281.2,259.6 L281.7,258.5 L282.1,257.6 L282.5,256.7 L283,255.8 L283.4,255.1 L283.8,254.4 L284.3,253.7 L284.7,253.2 L285.1,252.7 L285.6,252.2 L286,251.8 L286.4,251.4 L286.9,251.1 L287.3,250.7 L287.7,250.5 L288.2,250.2 L288.6,250 L289,249.8 L289.4,249.7 L289.9,249.5 L290.3,249.4 L290.7,249.2 L291.2,249.1 L291.6,249 L292,249 L292.5,248.9 L292.9,248.8 L293.3,248.8 L293.8,248.7 L294.2,248.7 L294.6,248.6 L295.1,248.6 L295.5,248.6 L295.9,248.6 L296.4,248.5 L296.8,248.5 L297.2,248.5 L297.7,248.5 L298.1,248.5 L298.5,248.5 L298.9,248.5 L299.4,248.4 L299.8,248.4 L300.2,248.4 L300.7,248.4 L301.1,248.4 L301.5,248.4 L302,248.4 L302.4,248.4 L302.8,248.4 L303.3,248.4 L303.7,248.4 L304.1,248.4 L304.6,248.4 L305,248.4 L305.4,248.4 L305.9,248.4 L306.3,248.4 L306.7,248.4 L307.2,248.4 L307.6,248.4 L308,248.4 L308.4,248.4 L310.2,248.4 L311.9,248.4 L313.6,248.4 L315.4,248.4 L317.1,248.4 L318.8,248.4 L320.5,248.4 L322.3,248.4 L324,248.4 L325.7,248.4 L327.5,248.4 L329.2,248.4 L330.9,248.4 L332.6,248.4 L334.4,248.4 L336.1,248.4 L337.8,248.4 L339.5,248.4 L341.3,248.4 L343,248.4 L344.7,248.4 L346.5,248.4 L348.2,248.4 L349.9,248.4 L351.6,248.4 L353.4,248.4 L355.1,248.4 L356.8,248.4 L358.5,248.4 L360.3,248.4 L362,248.4 L363.7,248.4 L365.5,248.4 L367.2,248.4 L368.9,248.4 L370.6,248.4 L372.4,248.4 L374.1,248.4 L375.8,248.4 L377.5,248.4 L379.3,248.4 L381,248.4 L382.7,248.4 L384.5,248.4 L386.2,248.4 L387.9,248.4 L389.6,248.4 L391.4,248.4 L393.1,248.4 L394.8,248.4 L396.6,248.4 L398.3,248.4 L400,248.4 L401.7,248.4 L403.5,248.4 L405.2,248.4 L406.9,248.4 L408.6,248.4 L410.4,248.4 L412.1,248.4" fill="none" stroke="#1830e4" stroke-width="2.5" stroke-linejoin="round"/>
<path d="M135.7,303.6 L137.4,303.6 L139.2,303.6 L140.9,303.6 L142.6,303.6 L144.3,303.6 L146.1,303.6 L147.8,303.6 L149.5,303.6 L151.2,303.6 L153,303.6 L154.7,303.6 L156.4,303.6 L158.2,303.6 L159.9,303.6 L161.6,303.6 L163.3,303.6 L165.1,303.6 L166.8,303.6 L168.5,303.6 L170.2,303.6 L172,303.6 L173.7,303.6 L175.4,303.6 L177.2,303.6 L178.9,303.6 L180.6,303.6 L182.3,303.6 L184.1,303.6 L185.8,303.6 L187.5,303.6 L189.3,303.6 L191,303.6 L192.7,303.6 L194.4,303.6 L196.2,303.6 L197.9,303.6 L199.6,303.6 L201.3,303.6 L203.1,303.6 L204.8,303.6 L206.5,303.6 L208.3,303.6 L210,303.6 L211.7,303.6 L213.4,303.6 L215.2,303.6 L216.9,303.6 L218.6,303.6 L220.3,303.6 L222.1,303.6 L223.8,303.6 L225.5,303.6 L227.3,303.6 L229,303.6 L230.7,303.6 L232.4,303.6 L234.2,303.6 L235.9,303.6 L237.6,303.6 L239.3,303.6 L241.1,303.6 L241.5,303.6 L241.9,303.6 L242.4,303.6 L242.8,303.6 L243.2,303.6 L243.7,303.6 L244.1,303.6 L244.5,303.7 L245,303.7 L245.4,303.7 L245.8,303.7 L246.3,303.7 L246.7,303.7 L247.1,303.7 L247.6,303.7 L248,303.7 L248.4,303.8 L248.9,303.8 L249.3,303.8 L249.7,303.8 L250.1,303.9 L250.6,303.9 L251,303.9 L251.4,304 L251.9,304 L252.3,304.1 L252.7,304.1 L253.2,304.2 L253.6,304.3 L254,304.4 L254.5,304.4 L254.9,304.5 L255.3,304.7 L255.8,304.8 L256.2,304.9 L256.6,305.1 L257.1,305.2 L257.5,305.4 L257.9,305.6 L258.4,305.8 L258.8,306.1 L259.2,306.3 L259.6,306.6 L260.1,306.9 L260.5,307.3 L260.9,307.7 L261.4,308.1 L261.8,308.5 L262.2,309 L262.7,309.6 L263.1,310.2 L263.5,310.8 L264,311.5 L264.4,312.2 L264.8,313 L265.3,313.9 L265.7,314.8 L266.1,315.8 L266.6,316.9 L267,318 L267.4,319.2 L267.9,320.5 L268.3,321.9 L268.7,323.3 L269.1,324.8 L269.6,326.4 L270,328 L270.4,329.7 L270.9,331.5 L271.3,333.2 L271.7,335 L272.2,336.8 L272.6,338.6 L273,340.3 L273.5,341.7 L273.9,342.8 L274.3,341.7 L274.8,340.3 L275.2,338.6 L275.6,336.8 L276.1,335 L276.5,333.2 L276.9,331.5 L277.4,329.7 L277.8,328 L278.2,326.4 L278.7,324.8 L279.1,323.3 L279.5,321.9 L279.9,320.5 L280.4,319.2 L280.8,318 L281.2,316.9 L281.7,315.8 L282.1,314.8 L282.5,313.9 L283,313 L283.4,312.2 L283.8,311.5 L284.3,310.8 L284.7,310.2 L285.1,309.6 L285.6,309 L286,308.5 L286.4,308.1 L286.9,307.7 L287.3,307.3 L287.7,306.9 L288.2,306.6 L288.6,306.3 L289,306.1 L289.4,305.8 L289.9,305.6 L290.3,305.4 L290.7,305.2 L291.2,305.1 L291.6,304.9 L292,304.8 L292.5,304.7 L292.9,304.5 L293.3,304.4 L293.8,304.4 L294.2,304.3 L294.6,304.2 L295.1,304.1 L295.5,304.1 L295.9,304 L296.4,304 L296.8,303.9 L297.2,303.9 L297.7,303.9 L298.1,303.8 L298.5,303.8 L298.9,303.8 L299.4,303.8 L299.8,303.7 L300.2,303.7 L300.7,303.7 L301.1,303.7 L301.5,303.7 L302,303.7 L302.4,303.7 L302.8,303.7 L303.3,303.7 L303.7,303.6 L304.1,303.6 L304.6,303.6 L305,303.6 L305.4,303.6 L305.9,303.6 L306.3,303.6 L306.7,303.6 L307.2,303.6 L307.6,303.6 L308,303.6 L308.4,303.6 L310.2,303.6 L311.9,303.6 L313.6,303.6 L315.4,303.6 L317.1,303.6 L318.8,303.6 L320.5,303.6 L322.3,303.6 L324,303.6 L325.7,303.6 L327.5,303.6 L329.2,303.6 L330.9,303.6 L332.6,303.6 L334.4,303.6 L336.1,303.6 L337.8,303.6 L339.5,303.6 L341.3,303.6 L343,303.6 L344.7,303.6 L346.5,303.6 L348.2,303.6 L349.9,303.6 L351.6,303.6 L353.4,303.6 L355.1,303.6 L356.8,303.6 L358.5,303.6 L360.3,303.6 L362,303.6 L363.7,303.6 L365.5,303.6 L367.2,303.6 L368.9,303.6 L370.6,303.6 L372.4,303.6 L374.1,303.6 L375.8,303.6 L377.5,303.6 L379.3,303.6 L381,303.6 L382.7,303.6 L384.5,303.6 L386.2,303.6 L387.9,303.6 L389.6,303.6 L391.4,303.6 L393.1,303.6 L394.8,303.6 L396.6,303.6 L398.3,303.6 L400,303.6 L401.7,303.6 L403.5,303.6 L405.2,303.6 L406.9,303.6 L408.6,303.6 L410.4,303.6 L412.1,303.6" fill="none" stroke="#e81010" stroke-width="2.5" stroke-linejoin="round"/>
<rect x="132.6" y="217.8" width="282.4" height="144.2" fill="none" stroke="#333" stroke-width="1.1"/>
<path d="M126.0,358.8 H132.6 M415.0,358.8 H421.6 M129.1,353.3 H132.6 M415.0,353.3 H418.5 M129.1,347.8 H132.6 M415.0,347.8 H418.5 M129.1,342.2 H132.6 M415.0,342.2 H418.5 M129.1,336.7 H132.6 M415.0,336.7 H418.5 M126.0,331.2 H132.6 M415.0,331.2 H421.6 M129.1,325.7 H132.6 M415.0,325.7 H418.5 M129.1,320.2 H132.6 M415.0,320.2 H418.5 M129.1,314.6 H132.6 M415.0,314.6 H418.5 M129.1,309.1 H132.6 M415.0,309.1 H418.5 M126.0,303.6 H132.6 M415.0,303.6 H421.6 M129.1,298.1 H132.6 M415.0,298.1 H418.5 M129.1,292.6 H132.6 M415.0,292.6 H418.5 M129.1,287.0 H132.6 M415.0,287.0 H418.5 M129.1,281.5 H132.6 M415.0,281.5 H418.5 M126.0,276.0 H132.6 M415.0,276.0 H421.6 M129.1,270.5 H132.6 M415.0,270.5 H418.5 M129.1,265.0 H132.6 M415.0,265.0 H418.5 M129.1,259.4 H132.6 M415.0,259.4 H418.5 M129.1,253.9 H132.6 M415.0,253.9 H418.5 M126.0,248.4 H132.6 M415.0,248.4 H421.6 M129.1,242.9 H132.6 M415.0,242.9 H418.5 M129.1,237.4 H132.6 M415.0,237.4 H418.5 M129.1,231.8 H132.6 M415.0,231.8 H418.5 M129.1,226.3 H132.6 M415.0,226.3 H418.5 M126.0,220.8 H132.6 M415.0,220.8 H421.6 M135.7,362.0 V368.2 M135.7,217.8 V211.0 M170.2,362.0 V368.2 M170.2,217.8 V211.0 M204.8,362.0 V368.2 M204.8,217.8 V211.0 M239.3,362.0 V368.2 M239.3,217.8 V211.0 M273.9,362.0 V368.2 M273.9,217.8 V211.0 M308.4,362.0 V368.2 M308.4,217.8 V211.0 M343.0,362.0 V368.2 M343.0,217.8 V211.0 M377.5,362.0 V368.2 M377.5,217.8 V211.0 M412.1,362.0 V368.2 M412.1,217.8 V211.0" stroke="#333" stroke-width="1.1" fill="none"/>
<text x="122.8" y="362.9" font-size="11.3" fill="#222" text-anchor="end" style="font-family:'Liberation Sans',Arial,sans-serif">0.0</text>
<text x="122.8" y="335.2" font-size="11.3" fill="#222" text-anchor="end" style="font-family:'Liberation Sans',Arial,sans-serif">0.5</text>
<text x="122.8" y="307.7" font-size="11.3" fill="#222" text-anchor="end" style="font-family:'Liberation Sans',Arial,sans-serif">1.0</text>
<text x="122.8" y="280.1" font-size="11.3" fill="#222" text-anchor="end" style="font-family:'Liberation Sans',Arial,sans-serif">1.5</text>
<text x="122.8" y="252.5" font-size="11.3" fill="#222" text-anchor="end" style="font-family:'Liberation Sans',Arial,sans-serif">2.0</text>
<text x="122.8" y="224.9" font-size="11.3" fill="#222" text-anchor="end" style="font-family:'Liberation Sans',Arial,sans-serif">2.5</text>
<text x="135.7" y="382.6" font-size="11.3" fill="#222" text-anchor="middle" style="font-family:'Liberation Sans',Arial,sans-serif">-80</text>
<text x="170.2" y="382.6" font-size="11.3" fill="#222" text-anchor="middle" style="font-family:'Liberation Sans',Arial,sans-serif">-60</text>
<text x="204.8" y="382.6" font-size="11.3" fill="#222" text-anchor="middle" style="font-family:'Liberation Sans',Arial,sans-serif">-40</text>
<text x="239.3" y="382.6" font-size="11.3" fill="#222" text-anchor="middle" style="font-family:'Liberation Sans',Arial,sans-serif">-20</text>
<text x="273.9" y="382.6" font-size="11.3" fill="#222" text-anchor="middle" style="font-family:'Liberation Sans',Arial,sans-serif">0</text>
<text x="308.4" y="382.6" font-size="11.3" fill="#222" text-anchor="middle" style="font-family:'Liberation Sans',Arial,sans-serif">20</text>
<text x="343.0" y="382.6" font-size="11.3" fill="#222" text-anchor="middle" style="font-family:'Liberation Sans',Arial,sans-serif">40</text>
<text x="377.5" y="382.6" font-size="11.3" fill="#222" text-anchor="middle" style="font-family:'Liberation Sans',Arial,sans-serif">60</text>
<text x="412.1" y="382.6" font-size="11.3" fill="#222" text-anchor="middle" style="font-family:'Liberation Sans',Arial,sans-serif">80</text>
<text x="273.9" y="394.2" font-size="11.1" fill="#222" text-anchor="middle" style="font-family:'Liberation Sans',Arial,sans-serif">Delay time (ns)</text>
<text transform="translate(99,308) rotate(-90)" font-size="11.5" fill="#222" style="font-family:'Liberation Sans',Arial,sans-serif">g<tspan font-size="8" dy="-7.5">2</tspan><tspan dy="7.5">(τ)</tspan></text>
<text x="88.3" y="223.8" font-size="12.3" fill="#222" style="font-family:'Liberation Sans',Arial,sans-serif">(c)</text>
<rect x="322.5" y="329.2" width="88.5" height="25.5" fill="#222"/>
<rect x="321.3" y="328" width="88.3" height="25.3" fill="#fff" stroke="#222" stroke-width="1"/>
<circle cx="333.5" cy="337" r="2.6" fill="none" stroke="#b84850" stroke-width="1.3"/>
<circle cx="333.5" cy="346" r="2.6" fill="none" stroke="#4858b0" stroke-width="1.3"/>
<text x="345" y="340.3" font-size="9.1" fill="#222" style="font-family:'Liberation Sans',Arial,sans-serif">few-layer hBN</text>
<text x="345" y="349.5" font-size="9.1" fill="#222" style="font-family:'Liberation Sans',Arial,sans-serif">monolayer hBN</text>
</svg>
</body></html>
